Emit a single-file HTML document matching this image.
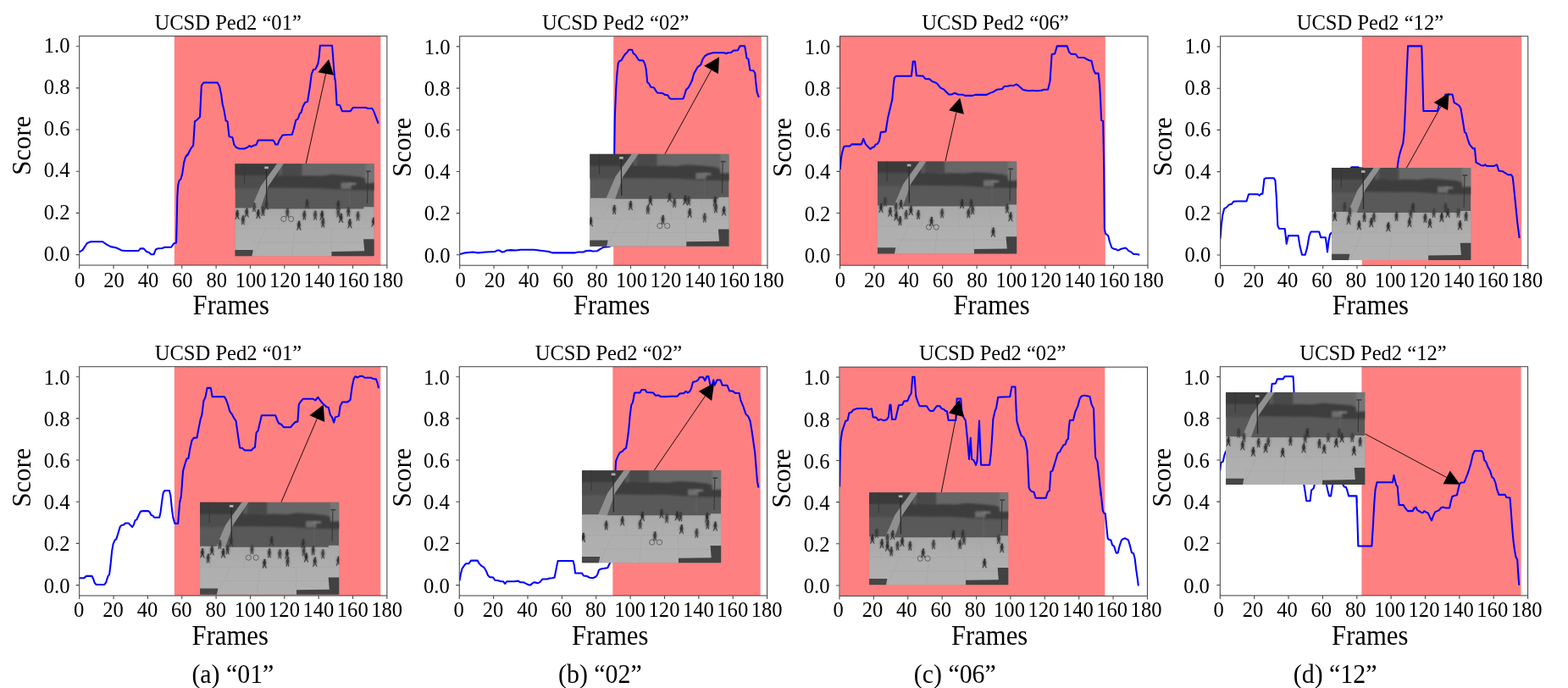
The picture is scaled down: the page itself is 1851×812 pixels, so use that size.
<!DOCTYPE html>
<html lang="en"><head><meta charset="utf-8"><title>UCSD Ped2 anomaly scores</title>
<style>html,body{margin:0;padding:0;background:#fff;}svg{display:block;}text{font-family:'Liberation Serif', serif;fill:#000;}.tk{font-size:24px;}.lb{font-size:30px;}.tt{font-size:24px;}.cp{font-size:30px;}</style>
</head><body>
<svg width="1851" height="812" viewBox="0 0 1851 812">
<defs>
<filter id="soft" x="-5%" y="-5%" width="110%" height="110%"><feGaussianBlur stdDeviation="0.9"/></filter>
<linearGradient id="pav" x1="0" y1="0" x2="0" y2="1"><stop offset="0" stop-color="#a8a8a8"/><stop offset="0.45" stop-color="#afafaf"/><stop offset="1" stop-color="#b1b1b1"/></linearGradient>
<clipPath id="ac0"><rect x="93.7" y="42.6" width="363.15" height="270.4"/></clipPath>
<clipPath id="ic0"><rect x="277.45" y="193.25" width="164.25" height="109.1"/></clipPath>
<clipPath id="ac1"><rect x="542.7" y="42.8" width="363.25" height="270.4"/></clipPath>
<clipPath id="ic1"><rect x="696.3" y="181.7" width="164.25" height="109.1"/></clipPath>
<clipPath id="ac2"><rect x="991.55" y="42.8" width="363.45" height="270.35"/></clipPath>
<clipPath id="ic2"><rect x="1036" y="190.4" width="164.25" height="109.1"/></clipPath>
<clipPath id="ac3"><rect x="1440.6" y="42.8" width="363.2" height="270.55"/></clipPath>
<clipPath id="ic3"><rect x="1572.1" y="197.9" width="164.25" height="109.1"/></clipPath>
<clipPath id="ac4"><rect x="93.7" y="432.75" width="363.15" height="270.25"/></clipPath>
<clipPath id="ic4"><rect x="236.05" y="592.7" width="164.25" height="109.1"/></clipPath>
<clipPath id="ac5"><rect x="542.25" y="432.75" width="363.35" height="270.25"/></clipPath>
<clipPath id="ic5"><rect x="686.95" y="555.2" width="164.25" height="109.1"/></clipPath>
<clipPath id="ac6"><rect x="991" y="433.2" width="363.45" height="270.2"/></clipPath>
<clipPath id="ic6"><rect x="1026.05" y="581.15" width="164.25" height="109.1"/></clipPath>
<clipPath id="ac7"><rect x="1440.3" y="432.75" width="363.3" height="270.15"/></clipPath>
<clipPath id="ic7"><rect x="1447.1" y="463" width="164.25" height="109.1"/></clipPath>
</defs>
<rect x="0" y="0" width="1851" height="812" fill="#fff"/>
<g>
<rect x="205.9" y="42.6" width="243.5" height="270.4" fill="#ff8080"/>
<polyline clip-path="url(#ac0)" points="93.69,297.34 97.54,295.12 102.71,287 107.14,285.22 121.18,285.22 126.35,288.92 130.79,291.13 137.44,292.46 143.35,295.42 147.78,296.01 163.3,296.01 165.81,293.35 169.66,293.35 172.91,297.04 175.86,298.08 178.52,300.3 181.48,300.3 183.99,294.38 186.5,293.2 191.38,292.91 194.78,291.72 202.17,291.72 205.12,287.44 208.08,286.26 208.1,286.55 208.62,266.21 209.31,231.72 210.17,218.79 211.55,213.1 213.62,211.03 215.34,204.14 217.07,192.07 218.79,186.03 220.52,183.1 222.24,182.07 219.7,184.77 221.67,182.21 225.02,175.91 228.17,171.58 229.94,143.41 232.5,141.44 236.05,138.09 237.82,101.06 240.38,97.52 256.73,97.52 259.09,102.05 261.06,110.91 262.64,122.73 264.61,130.61 266.58,142.42 268.55,143.41 270.52,161.14 274.45,162.12 276.42,170.98 278.79,173.94 282.73,175.52 288.64,175.52 292.58,173.55 294.55,171.97 296.52,173.55 298.48,171.97 302.42,170.98 304.79,165.47 322.12,165.47 323.7,167.05 325.27,170.59 327.64,170.59 330,165.08 333.55,159.56 344.77,158.77 346.74,152.27 349.3,141.83 351.67,140.45 353.64,134.55 355.61,132.58 357.58,125.68 359.94,121.15 363.09,119.77 365.45,105 367.82,87.27 369.79,82.35 372.35,81.76 375.3,75.45 376.68,67.58 377.86,53.79 392.05,53.79 393.03,65.61 394.02,79.39 395,91.21 395.98,96.14 397.56,123.71 401.3,124.3 403.86,131.2 413.71,131.2 416.67,127.06 432.42,127.06 434,128.05 439.32,128.05 441.29,131.59 444.24,139.47 446.61,145.77" fill="none" stroke="#0000ff" stroke-width="2.05" stroke-linejoin="round" stroke-linecap="butt"/>
<line x1="361.12" y1="193.24" x2="384.66" y2="87.08" stroke="#000" stroke-width="0.9"/>
<polygon points="388.11,69.94 375.3,85.3 394.02,88.85" fill="#000"/>
<g clip-path="url(#ic0)">
<rect x="277.45" y="193.25" width="164.25" height="109.1" fill="#595959"/>
<g filter="url(#soft)">
<rect x="269.24" y="187.79" width="59.13" height="19.64" fill="#3a3a3a"/>
<rect x="269.24" y="207.43" width="49.27" height="15.27" fill="#4e4e4e"/>
<rect x="333.3" y="187.79" width="24.64" height="20.73" fill="#484848"/>
<rect x="356.62" y="187.79" width="75.23" height="21.82" fill="#666666"/>
<rect x="431.35" y="187.79" width="18.56" height="28.37" fill="#747474"/>
<polygon points="316.05,221.62 316.05,211.8 321.8,207.98 336.58,206.89 351.36,207.98 362.86,206.89 379.28,207.43 392.42,205.8 408.85,206.89 425.27,208.52 431.02,210.71 431.84,216.16 449.91,215.07 449.91,224.89 408.85,224.34 379.28,222.16 343.15,221.83" fill="#3e3e3e"/>
<rect x="402.61" y="215.62" width="11.99" height="7.09" fill="#6e6e6e"/>
<rect x="411.31" y="216.16" width="9.03" height="1.64" fill="#8a8a8a"/>
</g>
<polygon points="327.71,192.16 335.59,192.16 316.54,219.98 307.18,246.71 296.17,246.71 307.67,219.98" fill="#909090"/>
<polygon points="269.24,245.4 296.34,245.4 307.01,246.38 429.38,246.38 429.38,244.31 449.91,244.31 449.91,307.81 269.24,307.81" fill="url(#pav)"/>
<line x1="307.01" y1="246.38" x2="288.95" y2="269.62" stroke="#a2a2a2" stroke-width="0.5"/>
<line x1="332.47" y1="246.38" x2="329.19" y2="271.8" stroke="#a2a2a2" stroke-width="0.5"/>
<line x1="372.71" y1="246.38" x2="373.54" y2="271.8" stroke="#a2a2a2" stroke-width="0.5"/>
<line x1="408.85" y1="246.38" x2="412.13" y2="271.8" stroke="#a2a2a2" stroke-width="0.5"/>
<line x1="277.45" y1="269.62" x2="441.7" y2="269.62" stroke="#a2a2a2" stroke-width="0.5"/>
<line x1="313.58" y1="269.62" x2="298.8" y2="302.35" stroke="#a2a2a2" stroke-width="0.5"/>
<line x1="348.08" y1="271.8" x2="344.79" y2="302.35" stroke="#a2a2a2" stroke-width="0.5"/>
<line x1="390.78" y1="269.62" x2="391.6" y2="302.35" stroke="#a2a2a2" stroke-width="0.5"/>
<line x1="298.8" y1="285.99" x2="430.2" y2="285.99" stroke="#a2a2a2" stroke-width="0.5"/>
<polygon points="269.24,295.04 298.8,295.04 296.34,307.81 269.24,307.81" fill="#464646"/>
<polygon points="391.44,296.89 430.2,296.35 429.05,282.17 449.91,282.17 449.91,307.81 391.44,307.81" fill="#424242"/>
<line x1="314.41" y1="198.71" x2="314.9" y2="242.34" stroke="#2a2a2a" stroke-width="1.3"/>
<rect x="312.27" y="196.52" width="4.6" height="2.73" fill="#b0b0b0"/>
<line x1="434.31" y1="203.07" x2="433.49" y2="240.16" stroke="#363636" stroke-width="1.1"/>
<rect x="431.84" y="201.43" width="5.75" height="1.64" fill="#3c3c3c"/>
<line x1="412.46" y1="216.16" x2="412.46" y2="244.53" stroke="#686868" stroke-width="0.6"/>
<line x1="288.62" y1="193.25" x2="288.62" y2="217.25" stroke="#363636" stroke-width="1"/>
<circle cx="334.86" cy="258.46" r="3.1" fill="none" stroke="#505050" stroke-width="0.8"/>
<circle cx="343.66" cy="258.46" r="3.1" fill="none" stroke="#505050" stroke-width="0.8"/>
<g filter="url(#soft)">
<ellipse cx="280.02" cy="253.06" rx="2" ry="4.6" fill="#3a3a3a" fill-opacity="0.75"/>
<ellipse cx="286.9" cy="259.46" rx="2" ry="4.6" fill="#3a3a3a" fill-opacity="0.75"/>
<ellipse cx="291.22" cy="250.66" rx="2" ry="4.6" fill="#3a3a3a" fill-opacity="0.75"/>
<ellipse cx="300.03" cy="244.25" rx="2" ry="4.6" fill="#3a3a3a" fill-opacity="0.75"/>
<ellipse cx="304.84" cy="252.26" rx="2" ry="4.6" fill="#3a3a3a" fill-opacity="0.75"/>
<ellipse cx="310.44" cy="249.06" rx="2" ry="4.6" fill="#3a3a3a" fill-opacity="0.75"/>
<ellipse cx="314.44" cy="241.85" rx="2" ry="4.6" fill="#3a3a3a" fill-opacity="0.75"/>
<ellipse cx="339.26" cy="250.66" rx="2" ry="4.6" fill="#3a3a3a" fill-opacity="0.75"/>
<ellipse cx="352.87" cy="265.87" rx="2" ry="4.6" fill="#3a3a3a" fill-opacity="0.75"/>
<ellipse cx="359.28" cy="253.86" rx="2" ry="4.6" fill="#3a3a3a" fill-opacity="0.75"/>
<ellipse cx="362.48" cy="240.25" rx="2" ry="4.6" fill="#3a3a3a" fill-opacity="0.75"/>
<ellipse cx="372.09" cy="253.86" rx="2" ry="4.6" fill="#3a3a3a" fill-opacity="0.75"/>
<ellipse cx="380.1" cy="253.86" rx="2" ry="4.6" fill="#3a3a3a" fill-opacity="0.75"/>
<ellipse cx="381.22" cy="262.67" rx="2" ry="4.6" fill="#3a3a3a" fill-opacity="0.75"/>
<ellipse cx="399.31" cy="241.85" rx="2" ry="4.6" fill="#3a3a3a" fill-opacity="0.75"/>
<ellipse cx="399.31" cy="250.66" rx="2" ry="4.6" fill="#3a3a3a" fill-opacity="0.75"/>
<ellipse cx="402.51" cy="257.06" rx="2" ry="4.6" fill="#3a3a3a" fill-opacity="0.75"/>
<ellipse cx="411.32" cy="249.86" rx="2" ry="4.6" fill="#3a3a3a" fill-opacity="0.75"/>
<ellipse cx="412.92" cy="263.47" rx="2" ry="4.6" fill="#3a3a3a" fill-opacity="0.75"/>
<ellipse cx="422.53" cy="254.66" rx="2" ry="4.6" fill="#3a3a3a" fill-opacity="0.75"/>
<ellipse cx="440.94" cy="261.87" rx="2" ry="4.6" fill="#3a3a3a" fill-opacity="0.75"/>
</g>
<ellipse cx="280.02" cy="252.46" rx="1.7" ry="2.8" fill="#303030"/>
<circle cx="280.32" cy="248.96" r="1.15" fill="#303030"/>
<path d="M279.72 254.66 L277.72 258.96 M280.32 254.66 L282.32 258.96" stroke="#303030" stroke-width="1" fill="none"/>
<ellipse cx="286.9" cy="258.86" rx="1.7" ry="2.8" fill="#3c3c3c"/>
<circle cx="287.2" cy="255.36" r="1.15" fill="#3c3c3c"/>
<path d="M286.6 261.06 L285.4 265.36 M287.2 261.06 L288.4 265.36" stroke="#3c3c3c" stroke-width="1" fill="none"/>
<ellipse cx="291.22" cy="250.06" rx="1.7" ry="2.8" fill="#353535"/>
<circle cx="291.52" cy="246.56" r="1.15" fill="#353535"/>
<path d="M290.92 252.26 L288.92 256.56 M291.52 252.26 L293.52 256.56" stroke="#353535" stroke-width="1" fill="none"/>
<ellipse cx="300.03" cy="243.65" rx="1.7" ry="2.8" fill="#444"/>
<circle cx="300.33" cy="240.15" r="1.15" fill="#444"/>
<path d="M299.73 245.85 L298.53 250.15 M300.33 245.85 L301.53 250.15" stroke="#444" stroke-width="1" fill="none"/>
<ellipse cx="304.84" cy="251.66" rx="1.7" ry="2.8" fill="#303030"/>
<circle cx="305.14" cy="248.16" r="1.15" fill="#303030"/>
<path d="M304.54 253.86 L302.54 258.16 M305.14 253.86 L307.14 258.16" stroke="#303030" stroke-width="1" fill="none"/>
<ellipse cx="310.44" cy="248.46" rx="1.7" ry="2.8" fill="#3c3c3c"/>
<circle cx="310.74" cy="244.96" r="1.15" fill="#3c3c3c"/>
<path d="M310.14 250.66 L308.94 254.96 M310.74 250.66 L311.94 254.96" stroke="#3c3c3c" stroke-width="1" fill="none"/>
<ellipse cx="314.44" cy="241.25" rx="1.7" ry="2.8" fill="#353535"/>
<circle cx="314.74" cy="237.75" r="1.15" fill="#353535"/>
<path d="M314.14 243.45 L312.14 247.75 M314.74 243.45 L316.74 247.75" stroke="#353535" stroke-width="1" fill="none"/>
<ellipse cx="339.26" cy="250.06" rx="1.7" ry="2.8" fill="#444"/>
<circle cx="339.56" cy="246.56" r="1.15" fill="#444"/>
<path d="M338.96 252.26 L337.76 256.56 M339.56 252.26 L340.76 256.56" stroke="#444" stroke-width="1" fill="none"/>
<ellipse cx="352.87" cy="265.27" rx="1.7" ry="2.8" fill="#303030"/>
<circle cx="353.17" cy="261.77" r="1.15" fill="#303030"/>
<path d="M352.57 267.47 L350.57 271.77 M353.17 267.47 L355.17 271.77" stroke="#303030" stroke-width="1" fill="none"/>
<ellipse cx="359.28" cy="253.26" rx="1.7" ry="2.8" fill="#3c3c3c"/>
<circle cx="359.58" cy="249.76" r="1.15" fill="#3c3c3c"/>
<path d="M358.98 255.46 L357.78 259.76 M359.58 255.46 L360.78 259.76" stroke="#3c3c3c" stroke-width="1" fill="none"/>
<ellipse cx="362.48" cy="239.65" rx="1.7" ry="2.8" fill="#353535"/>
<circle cx="362.78" cy="236.15" r="1.15" fill="#353535"/>
<path d="M362.18 241.85 L360.18 246.15 M362.78 241.85 L364.78 246.15" stroke="#353535" stroke-width="1" fill="none"/>
<ellipse cx="372.09" cy="253.26" rx="1.7" ry="2.8" fill="#444"/>
<circle cx="372.39" cy="249.76" r="1.15" fill="#444"/>
<path d="M371.79 255.46 L370.59 259.76 M372.39 255.46 L373.59 259.76" stroke="#444" stroke-width="1" fill="none"/>
<ellipse cx="380.1" cy="253.26" rx="1.7" ry="2.8" fill="#303030"/>
<circle cx="380.4" cy="249.76" r="1.15" fill="#303030"/>
<path d="M379.8 255.46 L377.8 259.76 M380.4 255.46 L382.4 259.76" stroke="#303030" stroke-width="1" fill="none"/>
<ellipse cx="381.22" cy="262.07" rx="1.7" ry="2.8" fill="#3c3c3c"/>
<circle cx="381.52" cy="258.57" r="1.15" fill="#3c3c3c"/>
<path d="M380.92 264.27 L379.72 268.57 M381.52 264.27 L382.72 268.57" stroke="#3c3c3c" stroke-width="1" fill="none"/>
<ellipse cx="399.31" cy="241.25" rx="1.7" ry="2.8" fill="#353535"/>
<circle cx="399.61" cy="237.75" r="1.15" fill="#353535"/>
<path d="M399.01 243.45 L397.01 247.75 M399.61 243.45 L401.61 247.75" stroke="#353535" stroke-width="1" fill="none"/>
<ellipse cx="399.31" cy="250.06" rx="1.7" ry="2.8" fill="#444"/>
<circle cx="399.61" cy="246.56" r="1.15" fill="#444"/>
<path d="M399.01 252.26 L397.81 256.56 M399.61 252.26 L400.81 256.56" stroke="#444" stroke-width="1" fill="none"/>
<ellipse cx="402.51" cy="256.46" rx="1.7" ry="2.8" fill="#303030"/>
<circle cx="402.81" cy="252.96" r="1.15" fill="#303030"/>
<path d="M402.21 258.66 L400.21 262.96 M402.81 258.66 L404.81 262.96" stroke="#303030" stroke-width="1" fill="none"/>
<ellipse cx="411.32" cy="249.26" rx="1.7" ry="2.8" fill="#3c3c3c"/>
<circle cx="411.62" cy="245.76" r="1.15" fill="#3c3c3c"/>
<path d="M411.02 251.46 L409.82 255.76 M411.62 251.46 L412.82 255.76" stroke="#3c3c3c" stroke-width="1" fill="none"/>
<ellipse cx="412.92" cy="262.87" rx="1.7" ry="2.8" fill="#353535"/>
<circle cx="413.22" cy="259.37" r="1.15" fill="#353535"/>
<path d="M412.62 265.07 L410.62 269.37 M413.22 265.07 L415.22 269.37" stroke="#353535" stroke-width="1" fill="none"/>
<ellipse cx="422.53" cy="254.06" rx="1.7" ry="2.8" fill="#444"/>
<circle cx="422.83" cy="250.56" r="1.15" fill="#444"/>
<path d="M422.23 256.26 L421.03 260.56 M422.83 256.26 L424.03 260.56" stroke="#444" stroke-width="1" fill="none"/>
<ellipse cx="440.94" cy="261.27" rx="1.7" ry="2.8" fill="#303030"/>
<circle cx="441.24" cy="257.77" r="1.15" fill="#303030"/>
<path d="M440.64 263.47 L438.64 267.77 M441.24 263.47 L443.24 267.77" stroke="#303030" stroke-width="1" fill="none"/>
</g>
<rect x="93.7" y="42.6" width="363.15" height="270.4" fill="none" stroke="#3c3c3c" stroke-width="1"/>
<path d="M93.7 313v4M134.05 313v4M174.4 313v4M214.75 313v4M255.1 313v4M295.45 313v4M335.8 313v4M376.15 313v4M416.5 313v4M456.85 313v4M93.7 300.6h-4M93.7 251.42h-4M93.7 202.24h-4M93.7 153.06h-4M93.7 103.88h-4M93.7 54.7h-4" stroke="#4a4a4a" stroke-width="1.1" fill="none"/>
<text class="tk" transform="translate(94.2 338.6) scale(1.025 1.09)" text-anchor="middle">0</text>
<text class="tk" transform="translate(134.58 338.6) scale(1.025 1.09)" text-anchor="middle">20</text>
<text class="tk" transform="translate(174.97 338.6) scale(1.025 1.09)" text-anchor="middle">40</text>
<text class="tk" transform="translate(215.35 338.6) scale(1.025 1.09)" text-anchor="middle">60</text>
<text class="tk" transform="translate(255.73 338.6) scale(1.025 1.09)" text-anchor="middle">80</text>
<text class="tk" transform="translate(296.12 338.6) scale(1.025 1.09)" text-anchor="middle">100</text>
<text class="tk" transform="translate(336.5 338.6) scale(1.025 1.09)" text-anchor="middle">120</text>
<text class="tk" transform="translate(376.88 338.6) scale(1.025 1.09)" text-anchor="middle">140</text>
<text class="tk" transform="translate(417.27 338.6) scale(1.025 1.09)" text-anchor="middle">160</text>
<text class="tk" transform="translate(457.65 338.6) scale(1.025 1.09)" text-anchor="middle">180</text>
<text class="tk" transform="translate(82.5 307.7) scale(1.025 1.09)" text-anchor="end">0.0</text>
<text class="tk" transform="translate(82.5 258.52) scale(1.025 1.09)" text-anchor="end">0.2</text>
<text class="tk" transform="translate(82.5 209.34) scale(1.025 1.09)" text-anchor="end">0.4</text>
<text class="tk" transform="translate(82.5 160.16) scale(1.025 1.09)" text-anchor="end">0.6</text>
<text class="tk" transform="translate(82.5 110.98) scale(1.025 1.09)" text-anchor="end">0.8</text>
<text class="tk" transform="translate(82.5 61.8) scale(1.025 1.09)" text-anchor="end">1.0</text>
<text class="lb" transform="translate(272.7 370.8) scale(1.022 1.09)" text-anchor="middle">Frames</text>
<text class="lb" transform="translate(36.3 171.9) rotate(-90) scale(1.022 1.04)" text-anchor="middle">Score</text>
<text class="tt" transform="translate(269.15 34.8) scale(1.025 1.09)" text-anchor="middle">UCSD Ped2 “01”</text>
</g>
<g>
<rect x="724.2" y="42.8" width="174.6" height="270.4" fill="#ff8080"/>
<polyline clip-path="url(#ac1)" points="542.97,299.98 549.45,298.36 558.09,297.6 564.58,298.36 573.22,297.6 584.02,297.06 587.27,295.44 589.43,295.44 592.67,297.6 594.83,297.28 598.07,295.44 603.47,295.12 608.88,295.44 614.28,294.79 630.49,294.79 638.05,295.66 646.69,296.74 648.85,297.28 652.1,298.36 679.11,298.36 682.35,297.49 688.83,297.49 692.07,295.98 696.4,295.66 699.64,296.52 705.04,296.2 708.28,294.04 712.6,291.66 718.55,291.33 723.41,289.17 724.6,275 724.85,195.61 725.24,181.42 725.83,138.48 727.21,105 728.39,87.27 729.77,74.47 731.35,71.91 733.71,71.12 736.08,66.59 738.24,63.64 740.21,62.06 742.18,58.71 746.12,58.71 747.5,62.65 750.45,65.21 752.42,68.56 754.39,71.12 759.32,71.52 761.29,75.45 762.67,81.36 764.24,97.12 766.21,98.7 768.18,102.64 772.12,103.42 774.09,106.97 776.06,109.53 781.97,109.92 784.92,111.89 788.27,112.29 790.24,115.83 792.21,116.82 806.59,116.42 808.17,111.89 809.94,105.98 812.5,103.42 814.47,100.08 817.03,94.76 819,87.27 821.36,82.94 823.33,79.39 825.3,77.82 827.27,76.44 829.64,69.55 832.2,66 836.14,63.64 842.05,62.26 854.85,62.26 857.21,63.24 859.18,62.26 863.12,62.06 865.68,59.7 871,59.3 873.56,54.18 879.08,54.18 880.45,61.67 881.44,68.56 883.41,69.55 885.38,82.94 889.32,83.33 891.29,86.29 892.27,97.12 893.65,108.94 895.82,114.85" fill="none" stroke="#0000ff" stroke-width="2.05" stroke-linejoin="round" stroke-linecap="butt"/>
<line x1="784.92" y1="181.82" x2="839.58" y2="82.55" stroke="#000" stroke-width="0.9"/>
<polygon points="848.94,67.18 831.21,77.82 847.95,87.27" fill="#000"/>
<g clip-path="url(#ic1)">
<rect x="696.3" y="181.7" width="164.25" height="109.1" fill="#595959"/>
<g filter="url(#soft)">
<rect x="688.09" y="176.24" width="59.13" height="19.64" fill="#3a3a3a"/>
<rect x="688.09" y="195.88" width="49.27" height="15.27" fill="#4e4e4e"/>
<rect x="752.14" y="176.24" width="24.64" height="20.73" fill="#484848"/>
<rect x="775.47" y="176.24" width="75.23" height="21.82" fill="#666666"/>
<rect x="850.2" y="176.24" width="18.56" height="28.37" fill="#747474"/>
<polygon points="734.9,210.07 734.9,200.25 740.65,196.43 755.43,195.34 770.21,196.43 781.71,195.34 798.13,195.88 811.27,194.25 827.7,195.34 844.12,196.97 849.87,199.16 850.69,204.61 868.76,203.52 868.76,213.34 827.7,212.79 798.13,210.61 762,210.28" fill="#3e3e3e"/>
<rect x="821.46" y="204.07" width="11.99" height="7.09" fill="#6e6e6e"/>
<rect x="830.16" y="204.61" width="9.03" height="1.64" fill="#8a8a8a"/>
</g>
<polygon points="746.56,180.61 754.44,180.61 735.39,208.43 726.03,235.16 715.02,235.16 726.52,208.43" fill="#909090"/>
<polygon points="688.09,233.85 715.19,233.85 725.87,234.83 848.23,234.83 848.23,232.76 868.76,232.76 868.76,296.25 688.09,296.25" fill="url(#pav)"/>
<line x1="725.87" y1="234.83" x2="707.8" y2="258.07" stroke="#a2a2a2" stroke-width="0.5"/>
<line x1="751.32" y1="234.83" x2="748.04" y2="260.25" stroke="#a2a2a2" stroke-width="0.5"/>
<line x1="791.56" y1="234.83" x2="792.39" y2="260.25" stroke="#a2a2a2" stroke-width="0.5"/>
<line x1="827.7" y1="234.83" x2="830.98" y2="260.25" stroke="#a2a2a2" stroke-width="0.5"/>
<line x1="696.3" y1="258.07" x2="860.55" y2="258.07" stroke="#a2a2a2" stroke-width="0.5"/>
<line x1="732.43" y1="258.07" x2="717.65" y2="290.8" stroke="#a2a2a2" stroke-width="0.5"/>
<line x1="766.93" y1="260.25" x2="763.64" y2="290.8" stroke="#a2a2a2" stroke-width="0.5"/>
<line x1="809.63" y1="258.07" x2="810.45" y2="290.8" stroke="#a2a2a2" stroke-width="0.5"/>
<line x1="717.65" y1="274.44" x2="849.05" y2="274.44" stroke="#a2a2a2" stroke-width="0.5"/>
<polygon points="688.09,283.49 717.65,283.49 715.19,296.25 688.09,296.25" fill="#464646"/>
<polygon points="810.29,285.34 849.05,284.8 847.9,270.62 868.76,270.62 868.76,296.25 810.29,296.25" fill="#424242"/>
<line x1="733.26" y1="187.16" x2="733.75" y2="230.79" stroke="#2a2a2a" stroke-width="1.3"/>
<rect x="731.12" y="184.97" width="4.6" height="2.73" fill="#b0b0b0"/>
<line x1="853.16" y1="191.52" x2="852.34" y2="228.61" stroke="#363636" stroke-width="1.1"/>
<rect x="850.69" y="189.88" width="5.75" height="1.64" fill="#3c3c3c"/>
<line x1="831.31" y1="204.61" x2="831.31" y2="232.98" stroke="#686868" stroke-width="0.6"/>
<line x1="707.47" y1="181.7" x2="707.47" y2="205.7" stroke="#363636" stroke-width="1"/>
<circle cx="778.88" cy="266.56" r="3.1" fill="none" stroke="#505050" stroke-width="0.8"/>
<circle cx="787.68" cy="266.56" r="3.1" fill="none" stroke="#505050" stroke-width="0.8"/>
<g filter="url(#soft)">
<ellipse cx="697.29" cy="261.47" rx="2" ry="4.6" fill="#3a3a3a" fill-opacity="0.75"/>
<ellipse cx="725.16" cy="247.06" rx="2" ry="4.6" fill="#3a3a3a" fill-opacity="0.75"/>
<ellipse cx="744.37" cy="242.26" rx="2" ry="4.6" fill="#3a3a3a" fill-opacity="0.75"/>
<ellipse cx="764.87" cy="247.06" rx="2" ry="4.6" fill="#3a3a3a" fill-opacity="0.75"/>
<ellipse cx="767.75" cy="236.65" rx="2" ry="4.6" fill="#3a3a3a" fill-opacity="0.75"/>
<ellipse cx="782.48" cy="259.07" rx="2" ry="4.6" fill="#3a3a3a" fill-opacity="0.75"/>
<ellipse cx="790.49" cy="232.65" rx="2" ry="4.6" fill="#3a3a3a" fill-opacity="0.75"/>
<ellipse cx="796.09" cy="239.06" rx="2" ry="4.6" fill="#3a3a3a" fill-opacity="0.75"/>
<ellipse cx="808.9" cy="235.85" rx="2" ry="4.6" fill="#3a3a3a" fill-opacity="0.75"/>
<ellipse cx="812.91" cy="236.65" rx="2" ry="4.6" fill="#3a3a3a" fill-opacity="0.75"/>
<ellipse cx="814.19" cy="251.06" rx="2" ry="4.6" fill="#3a3a3a" fill-opacity="0.75"/>
<ellipse cx="831.8" cy="256.67" rx="2" ry="4.6" fill="#3a3a3a" fill-opacity="0.75"/>
<ellipse cx="844.13" cy="237.45" rx="2" ry="4.6" fill="#3a3a3a" fill-opacity="0.75"/>
<ellipse cx="844.93" cy="245.46" rx="2" ry="4.6" fill="#3a3a3a" fill-opacity="0.75"/>
<ellipse cx="854.54" cy="248.66" rx="2" ry="4.6" fill="#3a3a3a" fill-opacity="0.75"/>
</g>
<ellipse cx="697.29" cy="260.87" rx="1.7" ry="2.8" fill="#303030"/>
<circle cx="697.59" cy="257.37" r="1.15" fill="#303030"/>
<path d="M696.99 263.07 L694.99 267.37 M697.59 263.07 L699.59 267.37" stroke="#303030" stroke-width="1" fill="none"/>
<ellipse cx="725.16" cy="246.46" rx="1.7" ry="2.8" fill="#3c3c3c"/>
<circle cx="725.46" cy="242.96" r="1.15" fill="#3c3c3c"/>
<path d="M724.86 248.66 L723.66 252.96 M725.46 248.66 L726.66 252.96" stroke="#3c3c3c" stroke-width="1" fill="none"/>
<ellipse cx="744.37" cy="241.66" rx="1.7" ry="2.8" fill="#353535"/>
<circle cx="744.67" cy="238.16" r="1.15" fill="#353535"/>
<path d="M744.07 243.86 L742.07 248.16 M744.67 243.86 L746.67 248.16" stroke="#353535" stroke-width="1" fill="none"/>
<ellipse cx="764.87" cy="246.46" rx="1.7" ry="2.8" fill="#444"/>
<circle cx="765.17" cy="242.96" r="1.15" fill="#444"/>
<path d="M764.57 248.66 L763.37 252.96 M765.17 248.66 L766.37 252.96" stroke="#444" stroke-width="1" fill="none"/>
<ellipse cx="767.75" cy="236.05" rx="1.7" ry="2.8" fill="#303030"/>
<circle cx="768.05" cy="232.55" r="1.15" fill="#303030"/>
<path d="M767.45 238.25 L765.45 242.55 M768.05 238.25 L770.05 242.55" stroke="#303030" stroke-width="1" fill="none"/>
<ellipse cx="782.48" cy="258.47" rx="1.7" ry="2.8" fill="#3c3c3c"/>
<circle cx="782.78" cy="254.97" r="1.15" fill="#3c3c3c"/>
<path d="M782.18 260.67 L780.98 264.97 M782.78 260.67 L783.98 264.97" stroke="#3c3c3c" stroke-width="1" fill="none"/>
<ellipse cx="790.49" cy="232.05" rx="1.7" ry="2.8" fill="#353535"/>
<circle cx="790.79" cy="228.55" r="1.15" fill="#353535"/>
<path d="M790.19 234.25 L788.19 238.55 M790.79 234.25 L792.79 238.55" stroke="#353535" stroke-width="1" fill="none"/>
<ellipse cx="796.09" cy="238.46" rx="1.7" ry="2.8" fill="#444"/>
<circle cx="796.39" cy="234.96" r="1.15" fill="#444"/>
<path d="M795.79 240.66 L794.59 244.96 M796.39 240.66 L797.59 244.96" stroke="#444" stroke-width="1" fill="none"/>
<ellipse cx="808.9" cy="235.25" rx="1.7" ry="2.8" fill="#303030"/>
<circle cx="809.2" cy="231.75" r="1.15" fill="#303030"/>
<path d="M808.6 237.45 L806.6 241.75 M809.2 237.45 L811.2 241.75" stroke="#303030" stroke-width="1" fill="none"/>
<ellipse cx="812.91" cy="236.05" rx="1.7" ry="2.8" fill="#3c3c3c"/>
<circle cx="813.21" cy="232.55" r="1.15" fill="#3c3c3c"/>
<path d="M812.61 238.25 L811.41 242.55 M813.21 238.25 L814.41 242.55" stroke="#3c3c3c" stroke-width="1" fill="none"/>
<ellipse cx="814.19" cy="250.46" rx="1.7" ry="2.8" fill="#353535"/>
<circle cx="814.49" cy="246.96" r="1.15" fill="#353535"/>
<path d="M813.89 252.66 L811.89 256.96 M814.49 252.66 L816.49 256.96" stroke="#353535" stroke-width="1" fill="none"/>
<ellipse cx="831.8" cy="256.07" rx="1.7" ry="2.8" fill="#444"/>
<circle cx="832.1" cy="252.57" r="1.15" fill="#444"/>
<path d="M831.5 258.27 L830.3 262.57 M832.1 258.27 L833.3 262.57" stroke="#444" stroke-width="1" fill="none"/>
<ellipse cx="844.13" cy="236.85" rx="1.7" ry="2.8" fill="#303030"/>
<circle cx="844.43" cy="233.35" r="1.15" fill="#303030"/>
<path d="M843.83 239.05 L841.83 243.35 M844.43 239.05 L846.43 243.35" stroke="#303030" stroke-width="1" fill="none"/>
<ellipse cx="844.93" cy="244.86" rx="1.7" ry="2.8" fill="#3c3c3c"/>
<circle cx="845.23" cy="241.36" r="1.15" fill="#3c3c3c"/>
<path d="M844.63 247.06 L843.43 251.36 M845.23 247.06 L846.43 251.36" stroke="#3c3c3c" stroke-width="1" fill="none"/>
<ellipse cx="854.54" cy="248.06" rx="1.7" ry="2.8" fill="#353535"/>
<circle cx="854.84" cy="244.56" r="1.15" fill="#353535"/>
<path d="M854.24 250.26 L852.24 254.56 M854.84 250.26 L856.84 254.56" stroke="#353535" stroke-width="1" fill="none"/>
</g>
<rect x="542.7" y="42.8" width="363.25" height="270.4" fill="none" stroke="#3c3c3c" stroke-width="1"/>
<path d="M542.7 313.2v4M583.06 313.2v4M623.42 313.2v4M663.78 313.2v4M704.14 313.2v4M744.51 313.2v4M784.87 313.2v4M825.23 313.2v4M865.59 313.2v4M905.95 313.2v4M542.7 300.8h-4M542.7 251.62h-4M542.7 202.44h-4M542.7 153.26h-4M542.7 104.08h-4M542.7 54.9h-4" stroke="#4a4a4a" stroke-width="1.1" fill="none"/>
<text class="tk" transform="translate(543.6 338.6) scale(1.025 1.09)" text-anchor="middle">0</text>
<text class="tk" transform="translate(583.98 338.6) scale(1.025 1.09)" text-anchor="middle">20</text>
<text class="tk" transform="translate(624.37 338.6) scale(1.025 1.09)" text-anchor="middle">40</text>
<text class="tk" transform="translate(664.75 338.6) scale(1.025 1.09)" text-anchor="middle">60</text>
<text class="tk" transform="translate(705.13 338.6) scale(1.025 1.09)" text-anchor="middle">80</text>
<text class="tk" transform="translate(745.52 338.6) scale(1.025 1.09)" text-anchor="middle">100</text>
<text class="tk" transform="translate(785.9 338.6) scale(1.025 1.09)" text-anchor="middle">120</text>
<text class="tk" transform="translate(826.28 338.6) scale(1.025 1.09)" text-anchor="middle">140</text>
<text class="tk" transform="translate(866.67 338.6) scale(1.025 1.09)" text-anchor="middle">160</text>
<text class="tk" transform="translate(907.05 338.6) scale(1.025 1.09)" text-anchor="middle">180</text>
<text class="tk" transform="translate(531.5 309.6) scale(1.025 1.09)" text-anchor="end">0.0</text>
<text class="tk" transform="translate(531.5 260.42) scale(1.025 1.09)" text-anchor="end">0.2</text>
<text class="tk" transform="translate(531.5 211.24) scale(1.025 1.09)" text-anchor="end">0.4</text>
<text class="tk" transform="translate(531.5 162.06) scale(1.025 1.09)" text-anchor="end">0.6</text>
<text class="tk" transform="translate(531.5 112.88) scale(1.025 1.09)" text-anchor="end">0.8</text>
<text class="tk" transform="translate(531.5 63.7) scale(1.025 1.09)" text-anchor="end">1.0</text>
<text class="lb" transform="translate(722.1 370.8) scale(1.022 1.09)" text-anchor="middle">Frames</text>
<text class="lb" transform="translate(485.3 173.8) rotate(-90) scale(1.022 1.04)" text-anchor="middle">Score</text>
<text class="tt" transform="translate(726.75 34.8) scale(1.025 1.09)" text-anchor="middle">UCSD Ped2 “02”</text>
</g>
<g>
<rect x="991.6" y="42.8" width="313.2" height="270.35" fill="#ff8080"/>
<polyline clip-path="url(#ac2)" points="991.77,199.92 992.8,187.81 994.24,179.6 996.29,173.03 998.34,172.41 1003.48,172.41 1005.12,170.36 1016.82,170.36 1019.28,163.79 1021.95,170.36 1025.03,173.44 1027.5,175.9 1030.16,173.85 1031.81,173.44 1033.86,170.36 1035.91,169.75 1037.97,166.26 1039.81,155.99 1045.56,155.38 1048.03,139.57 1050.69,128.28 1053.36,116.99 1054.8,99.54 1055.83,91.73 1057.88,89.68 1075.95,89.68 1077.79,72.44 1080.05,72.44 1081.9,89.27 1089.7,89.68 1092.16,92.97 1097.5,93.38 1100.38,96.05 1105.71,98.1 1110.23,103.64 1114.34,105.69 1120.08,111.44 1123.57,111.44 1127.06,109.8 1130.76,111.44 1136.92,111.85 1138.97,112.88 1148.21,112.88 1151.29,111.85 1164.63,111.85 1169.76,109.39 1172.84,108.36 1176.95,105.69 1183.11,105.08 1185.16,102 1190.29,101.59 1193.37,100.77 1196.45,101.18 1199.53,99.54 1201.59,100.56 1207.74,106.1 1214.93,107.34 1219.04,106.72 1223.14,107.34 1229.3,106.72 1232.38,105.69 1237.1,105.69 1239.57,95.43 1241.62,64.22 1245.31,63.2 1247.78,54.37 1259.68,54.37 1262.15,61.56 1264.2,63.61 1269.95,64.02 1272.41,67.71 1279.6,67.92 1282.68,69.77 1285.76,71.2 1288.43,71.82 1290.89,82.09 1292.94,86.6 1296.64,86.6 1298.07,99.54 1299.1,118.01 1300.13,142.03 1302.18,142.65 1303.21,199.92 1303.84,270 1305.02,275.62 1308.28,278.57 1310.2,286.26 1312.41,292.46 1314.63,293.65 1316.85,293.94 1319.8,295.57 1322.76,294.09 1325.71,293.35 1328.37,292.46 1330.44,293.94 1332.36,296.16 1334.58,297.04 1338.28,300 1341.97,300 1345.22,300.74" fill="none" stroke="#0000ff" stroke-width="2.05" stroke-linejoin="round" stroke-linecap="butt"/>
<line x1="1115.98" y1="190.28" x2="1129.01" y2="132.59" stroke="#000" stroke-width="0.9"/>
<polygon points="1133.22,115.55 1120.08,130.33 1137.94,134.85" fill="#000"/>
<g clip-path="url(#ic2)">
<rect x="1036" y="190.4" width="164.25" height="109.1" fill="#595959"/>
<g filter="url(#soft)">
<rect x="1027.79" y="184.94" width="59.13" height="19.64" fill="#3a3a3a"/>
<rect x="1027.79" y="204.58" width="49.27" height="15.27" fill="#4e4e4e"/>
<rect x="1091.85" y="184.94" width="24.64" height="20.73" fill="#484848"/>
<rect x="1115.17" y="184.94" width="75.23" height="21.82" fill="#666666"/>
<rect x="1189.9" y="184.94" width="18.56" height="28.37" fill="#747474"/>
<polygon points="1074.6,218.77 1074.6,208.95 1080.35,205.13 1095.13,204.04 1109.91,205.13 1121.41,204.04 1137.84,204.58 1150.97,202.95 1167.4,204.04 1183.83,205.67 1189.57,207.86 1190.39,213.31 1208.46,212.22 1208.46,222.04 1167.4,221.49 1137.84,219.31 1101.7,218.98" fill="#3e3e3e"/>
<rect x="1161.16" y="212.77" width="11.99" height="7.09" fill="#6e6e6e"/>
<rect x="1169.86" y="213.31" width="9.03" height="1.64" fill="#8a8a8a"/>
</g>
<polygon points="1086.26,189.31 1094.14,189.31 1075.09,217.13 1065.73,243.86 1054.72,243.86 1066.22,217.13" fill="#909090"/>
<polygon points="1027.79,242.55 1054.89,242.55 1065.57,243.53 1187.93,243.53 1187.93,241.46 1208.46,241.46 1208.46,304.95 1027.79,304.95" fill="url(#pav)"/>
<line x1="1065.57" y1="243.53" x2="1047.5" y2="266.77" stroke="#a2a2a2" stroke-width="0.5"/>
<line x1="1091.02" y1="243.53" x2="1087.74" y2="268.95" stroke="#a2a2a2" stroke-width="0.5"/>
<line x1="1131.26" y1="243.53" x2="1132.09" y2="268.95" stroke="#a2a2a2" stroke-width="0.5"/>
<line x1="1167.4" y1="243.53" x2="1170.68" y2="268.95" stroke="#a2a2a2" stroke-width="0.5"/>
<line x1="1036" y1="266.77" x2="1200.25" y2="266.77" stroke="#a2a2a2" stroke-width="0.5"/>
<line x1="1072.13" y1="266.77" x2="1057.35" y2="299.5" stroke="#a2a2a2" stroke-width="0.5"/>
<line x1="1106.63" y1="268.95" x2="1103.34" y2="299.5" stroke="#a2a2a2" stroke-width="0.5"/>
<line x1="1149.33" y1="266.77" x2="1150.15" y2="299.5" stroke="#a2a2a2" stroke-width="0.5"/>
<line x1="1057.35" y1="283.13" x2="1188.75" y2="283.13" stroke="#a2a2a2" stroke-width="0.5"/>
<polygon points="1027.79,292.19 1057.35,292.19 1054.89,304.95 1027.79,304.95" fill="#464646"/>
<polygon points="1149.99,294.05 1188.75,293.5 1187.6,279.32 1208.46,279.32 1208.46,304.95 1149.99,304.95" fill="#424242"/>
<line x1="1072.96" y1="195.86" x2="1073.45" y2="239.5" stroke="#2a2a2a" stroke-width="1.3"/>
<rect x="1070.82" y="193.67" width="4.6" height="2.73" fill="#b0b0b0"/>
<line x1="1192.86" y1="200.22" x2="1192.04" y2="237.31" stroke="#363636" stroke-width="1.1"/>
<rect x="1190.39" y="198.58" width="5.75" height="1.64" fill="#3c3c3c"/>
<line x1="1171.01" y1="213.31" x2="1171.01" y2="241.68" stroke="#686868" stroke-width="0.6"/>
<line x1="1047.17" y1="190.4" x2="1047.17" y2="214.4" stroke="#363636" stroke-width="1"/>
<circle cx="1096.46" cy="268.07" r="3.1" fill="none" stroke="#505050" stroke-width="0.8"/>
<circle cx="1105.26" cy="268.07" r="3.1" fill="none" stroke="#505050" stroke-width="0.8"/>
<g filter="url(#soft)">
<ellipse cx="1040.02" cy="245.05" rx="2" ry="4.6" fill="#3a3a3a" fill-opacity="0.75"/>
<ellipse cx="1044.82" cy="237.85" rx="2" ry="4.6" fill="#3a3a3a" fill-opacity="0.75"/>
<ellipse cx="1050.9" cy="249.86" rx="2" ry="4.6" fill="#3a3a3a" fill-opacity="0.75"/>
<ellipse cx="1057.63" cy="244.25" rx="2" ry="4.6" fill="#3a3a3a" fill-opacity="0.75"/>
<ellipse cx="1057.95" cy="254.66" rx="2" ry="4.6" fill="#3a3a3a" fill-opacity="0.75"/>
<ellipse cx="1062.43" cy="260.26" rx="2" ry="4.6" fill="#3a3a3a" fill-opacity="0.75"/>
<ellipse cx="1063.55" cy="241.05" rx="2" ry="4.6" fill="#3a3a3a" fill-opacity="0.75"/>
<ellipse cx="1069.64" cy="253.06" rx="2" ry="4.6" fill="#3a3a3a" fill-opacity="0.75"/>
<ellipse cx="1075.24" cy="248.25" rx="2" ry="4.6" fill="#3a3a3a" fill-opacity="0.75"/>
<ellipse cx="1084.05" cy="253.06" rx="2" ry="4.6" fill="#3a3a3a" fill-opacity="0.75"/>
<ellipse cx="1099.58" cy="261.06" rx="2" ry="4.6" fill="#3a3a3a" fill-opacity="0.75"/>
<ellipse cx="1112.07" cy="251.46" rx="2" ry="4.6" fill="#3a3a3a" fill-opacity="0.75"/>
<ellipse cx="1135.61" cy="240.25" rx="2" ry="4.6" fill="#3a3a3a" fill-opacity="0.75"/>
<ellipse cx="1143.3" cy="251.46" rx="2" ry="4.6" fill="#3a3a3a" fill-opacity="0.75"/>
<ellipse cx="1146.5" cy="240.25" rx="2" ry="4.6" fill="#3a3a3a" fill-opacity="0.75"/>
<ellipse cx="1148.1" cy="247.45" rx="2" ry="4.6" fill="#3a3a3a" fill-opacity="0.75"/>
<ellipse cx="1172.44" cy="273.87" rx="2" ry="4.6" fill="#3a3a3a" fill-opacity="0.75"/>
<ellipse cx="1188.94" cy="245.85" rx="2" ry="4.6" fill="#3a3a3a" fill-opacity="0.75"/>
<ellipse cx="1192.94" cy="255.46" rx="2" ry="4.6" fill="#3a3a3a" fill-opacity="0.75"/>
</g>
<ellipse cx="1040.02" cy="244.45" rx="1.7" ry="2.8" fill="#303030"/>
<circle cx="1040.32" cy="240.95" r="1.15" fill="#303030"/>
<path d="M1039.72 246.65 L1037.72 250.95 M1040.32 246.65 L1042.32 250.95" stroke="#303030" stroke-width="1" fill="none"/>
<ellipse cx="1044.82" cy="237.25" rx="1.7" ry="2.8" fill="#3c3c3c"/>
<circle cx="1045.12" cy="233.75" r="1.15" fill="#3c3c3c"/>
<path d="M1044.52 239.45 L1043.32 243.75 M1045.12 239.45 L1046.32 243.75" stroke="#3c3c3c" stroke-width="1" fill="none"/>
<ellipse cx="1050.9" cy="249.26" rx="1.7" ry="2.8" fill="#353535"/>
<circle cx="1051.2" cy="245.76" r="1.15" fill="#353535"/>
<path d="M1050.6 251.46 L1048.6 255.76 M1051.2 251.46 L1053.2 255.76" stroke="#353535" stroke-width="1" fill="none"/>
<ellipse cx="1057.63" cy="243.65" rx="1.7" ry="2.8" fill="#444"/>
<circle cx="1057.93" cy="240.15" r="1.15" fill="#444"/>
<path d="M1057.33 245.85 L1056.13 250.15 M1057.93 245.85 L1059.13 250.15" stroke="#444" stroke-width="1" fill="none"/>
<ellipse cx="1057.95" cy="254.06" rx="1.7" ry="2.8" fill="#303030"/>
<circle cx="1058.25" cy="250.56" r="1.15" fill="#303030"/>
<path d="M1057.65 256.26 L1055.65 260.56 M1058.25 256.26 L1060.25 260.56" stroke="#303030" stroke-width="1" fill="none"/>
<ellipse cx="1062.43" cy="259.66" rx="1.7" ry="2.8" fill="#3c3c3c"/>
<circle cx="1062.73" cy="256.16" r="1.15" fill="#3c3c3c"/>
<path d="M1062.13 261.86 L1060.93 266.16 M1062.73 261.86 L1063.93 266.16" stroke="#3c3c3c" stroke-width="1" fill="none"/>
<ellipse cx="1063.55" cy="240.45" rx="1.7" ry="2.8" fill="#353535"/>
<circle cx="1063.85" cy="236.95" r="1.15" fill="#353535"/>
<path d="M1063.25 242.65 L1061.25 246.95 M1063.85 242.65 L1065.85 246.95" stroke="#353535" stroke-width="1" fill="none"/>
<ellipse cx="1069.64" cy="252.46" rx="1.7" ry="2.8" fill="#444"/>
<circle cx="1069.94" cy="248.96" r="1.15" fill="#444"/>
<path d="M1069.34 254.66 L1068.14 258.96 M1069.94 254.66 L1071.14 258.96" stroke="#444" stroke-width="1" fill="none"/>
<ellipse cx="1075.24" cy="247.65" rx="1.7" ry="2.8" fill="#303030"/>
<circle cx="1075.54" cy="244.15" r="1.15" fill="#303030"/>
<path d="M1074.94 249.85 L1072.94 254.15 M1075.54 249.85 L1077.54 254.15" stroke="#303030" stroke-width="1" fill="none"/>
<ellipse cx="1084.05" cy="252.46" rx="1.7" ry="2.8" fill="#3c3c3c"/>
<circle cx="1084.35" cy="248.96" r="1.15" fill="#3c3c3c"/>
<path d="M1083.75 254.66 L1082.55 258.96 M1084.35 254.66 L1085.55 258.96" stroke="#3c3c3c" stroke-width="1" fill="none"/>
<ellipse cx="1099.58" cy="260.46" rx="1.7" ry="2.8" fill="#353535"/>
<circle cx="1099.88" cy="256.96" r="1.15" fill="#353535"/>
<path d="M1099.28 262.66 L1097.28 266.96 M1099.88 262.66 L1101.88 266.96" stroke="#353535" stroke-width="1" fill="none"/>
<ellipse cx="1112.07" cy="250.86" rx="1.7" ry="2.8" fill="#444"/>
<circle cx="1112.37" cy="247.36" r="1.15" fill="#444"/>
<path d="M1111.77 253.06 L1110.57 257.36 M1112.37 253.06 L1113.57 257.36" stroke="#444" stroke-width="1" fill="none"/>
<ellipse cx="1135.61" cy="239.65" rx="1.7" ry="2.8" fill="#303030"/>
<circle cx="1135.91" cy="236.15" r="1.15" fill="#303030"/>
<path d="M1135.31 241.85 L1133.31 246.15 M1135.91 241.85 L1137.91 246.15" stroke="#303030" stroke-width="1" fill="none"/>
<ellipse cx="1143.3" cy="250.86" rx="1.7" ry="2.8" fill="#3c3c3c"/>
<circle cx="1143.6" cy="247.36" r="1.15" fill="#3c3c3c"/>
<path d="M1143 253.06 L1141.8 257.36 M1143.6 253.06 L1144.8 257.36" stroke="#3c3c3c" stroke-width="1" fill="none"/>
<ellipse cx="1146.5" cy="239.65" rx="1.7" ry="2.8" fill="#353535"/>
<circle cx="1146.8" cy="236.15" r="1.15" fill="#353535"/>
<path d="M1146.2 241.85 L1144.2 246.15 M1146.8 241.85 L1148.8 246.15" stroke="#353535" stroke-width="1" fill="none"/>
<ellipse cx="1148.1" cy="246.85" rx="1.7" ry="2.8" fill="#444"/>
<circle cx="1148.4" cy="243.35" r="1.15" fill="#444"/>
<path d="M1147.8 249.05 L1146.6 253.35 M1148.4 249.05 L1149.6 253.35" stroke="#444" stroke-width="1" fill="none"/>
<ellipse cx="1172.44" cy="273.27" rx="1.7" ry="2.8" fill="#303030"/>
<circle cx="1172.74" cy="269.77" r="1.15" fill="#303030"/>
<path d="M1172.14 275.47 L1170.14 279.77 M1172.74 275.47 L1174.74 279.77" stroke="#303030" stroke-width="1" fill="none"/>
<ellipse cx="1188.94" cy="245.25" rx="1.7" ry="2.8" fill="#3c3c3c"/>
<circle cx="1189.24" cy="241.75" r="1.15" fill="#3c3c3c"/>
<path d="M1188.64 247.45 L1187.44 251.75 M1189.24 247.45 L1190.44 251.75" stroke="#3c3c3c" stroke-width="1" fill="none"/>
<ellipse cx="1192.94" cy="254.86" rx="1.7" ry="2.8" fill="#353535"/>
<circle cx="1193.24" cy="251.36" r="1.15" fill="#353535"/>
<path d="M1192.64 257.06 L1190.64 261.36 M1193.24 257.06 L1195.24 261.36" stroke="#353535" stroke-width="1" fill="none"/>
</g>
<rect x="991.55" y="42.8" width="363.45" height="270.35" fill="none" stroke="#3c3c3c" stroke-width="1"/>
<path d="M991.55 313.15v4M1031.93 313.15v4M1072.32 313.15v4M1112.7 313.15v4M1153.08 313.15v4M1193.47 313.15v4M1233.85 313.15v4M1274.23 313.15v4M1314.62 313.15v4M1355 313.15v4M991.55 300.75h-4M991.55 251.57h-4M991.55 202.39h-4M991.55 153.21h-4M991.55 104.03h-4M991.55 54.85h-4" stroke="#4a4a4a" stroke-width="1.1" fill="none"/>
<text class="tk" transform="translate(992 338.6) scale(1.025 1.09)" text-anchor="middle">0</text>
<text class="tk" transform="translate(1032.38 338.6) scale(1.025 1.09)" text-anchor="middle">20</text>
<text class="tk" transform="translate(1072.77 338.6) scale(1.025 1.09)" text-anchor="middle">40</text>
<text class="tk" transform="translate(1113.15 338.6) scale(1.025 1.09)" text-anchor="middle">60</text>
<text class="tk" transform="translate(1153.53 338.6) scale(1.025 1.09)" text-anchor="middle">80</text>
<text class="tk" transform="translate(1193.92 338.6) scale(1.025 1.09)" text-anchor="middle">100</text>
<text class="tk" transform="translate(1234.3 338.6) scale(1.025 1.09)" text-anchor="middle">120</text>
<text class="tk" transform="translate(1274.68 338.6) scale(1.025 1.09)" text-anchor="middle">140</text>
<text class="tk" transform="translate(1315.07 338.6) scale(1.025 1.09)" text-anchor="middle">160</text>
<text class="tk" transform="translate(1355.45 338.6) scale(1.025 1.09)" text-anchor="middle">180</text>
<text class="tk" transform="translate(980.4 309.8) scale(1.025 1.09)" text-anchor="end">0.0</text>
<text class="tk" transform="translate(980.4 260.62) scale(1.025 1.09)" text-anchor="end">0.2</text>
<text class="tk" transform="translate(980.4 211.44) scale(1.025 1.09)" text-anchor="end">0.4</text>
<text class="tk" transform="translate(980.4 162.26) scale(1.025 1.09)" text-anchor="end">0.6</text>
<text class="tk" transform="translate(980.4 113.08) scale(1.025 1.09)" text-anchor="end">0.8</text>
<text class="tk" transform="translate(980.4 63.9) scale(1.025 1.09)" text-anchor="end">1.0</text>
<text class="lb" transform="translate(1170.5 370.8) scale(1.022 1.09)" text-anchor="middle">Frames</text>
<text class="lb" transform="translate(934.2 174) rotate(-90) scale(1.022 1.04)" text-anchor="middle">Score</text>
<text class="tt" transform="translate(1174.95 34.8) scale(1.025 1.09)" text-anchor="middle">UCSD Ped2 “06”</text>
</g>
<g>
<rect x="1607.8" y="42.8" width="188.4" height="270.55" fill="#ff8080"/>
<polyline clip-path="url(#ac3)" points="1440.54,281.62 1441.77,266.22 1443.21,253.91 1445.26,246.1 1447.73,244.87 1451.01,241.59 1453.89,240.77 1456.15,237.89 1459.64,237.48 1471.54,237.48 1474.01,229.27 1484.89,229.27 1486.73,230.71 1488.38,228.86 1490.43,228.65 1492.48,211.2 1494.54,210.18 1503.77,210.18 1505.42,212.85 1506.85,233.38 1508.29,266.22 1509.93,269.71 1516.71,269.92 1517.73,278.54 1518.76,287.78 1520.81,278.13 1532.51,278.13 1534.57,290.86 1537.03,300.71 1540.73,300.71 1543.19,291.89 1545.45,278.54 1547.5,273.41 1557.15,273.41 1559.2,280.18 1564.75,280.18 1565.98,288.81 1567,297.43 1568.44,284.7 1570.08,276.49 1572.14,274.44 1576.65,273.41 1578.71,241.59 1591.02,202.58 1594.72,198.07 1595.54,197.35 1603.34,197.35 1604.16,198.07 1619.76,200.53 1623.87,212.85 1648.51,204.24 1649.53,198.08 1650.97,187.81 1652.61,180.63 1654.25,175.49 1656.31,168.92 1657.74,154.96 1659.18,122.12 1660.82,81.06 1662.06,54.37 1678.27,54.37 1679.3,91.32 1680.33,130.95 1696.75,130.95 1698.8,124.17 1701.88,123.14 1703.94,119.04 1706.4,111.44 1714.61,111.44 1716.66,121.09 1719.33,122.53 1722.41,124.58 1724.47,128.28 1726.52,140.59 1728.98,155.99 1730.62,157.02 1732.68,164.2 1734.73,170.36 1736.78,172.83 1738.84,175.49 1740.89,175.08 1742.53,191.92 1744.99,192.94 1748.07,195 1751.15,195.61 1753.21,194.38 1755.26,196.02 1763.47,196.02 1766.96,194.38 1767.17,194.78 1769.22,201.56 1773.74,202.17 1776.82,204.02 1779.89,206.28 1784,206.28 1785.64,208.74 1787.08,221.06 1789.13,241.59 1791.19,262.12 1793.65,281" fill="none" stroke="#0000ff" stroke-width="2.05" stroke-linejoin="round" stroke-linecap="butt"/>
<line x1="1660.41" y1="198.08" x2="1700.86" y2="125.71" stroke="#000" stroke-width="0.9"/>
<polygon points="1710.51,109.8 1692.64,121.09 1709.07,130.33" fill="#000"/>
<g clip-path="url(#ic3)">
<rect x="1572.1" y="197.9" width="164.25" height="109.1" fill="#595959"/>
<g filter="url(#soft)">
<rect x="1563.89" y="192.44" width="59.13" height="19.64" fill="#3a3a3a"/>
<rect x="1563.89" y="212.08" width="49.27" height="15.27" fill="#4e4e4e"/>
<rect x="1627.94" y="192.44" width="24.64" height="20.73" fill="#484848"/>
<rect x="1651.27" y="192.44" width="75.23" height="21.82" fill="#666666"/>
<rect x="1726" y="192.44" width="18.56" height="28.37" fill="#747474"/>
<polygon points="1610.7,226.27 1610.7,216.45 1616.45,212.63 1631.23,211.54 1646.01,212.63 1657.51,211.54 1673.93,212.08 1687.07,210.45 1703.5,211.54 1719.92,213.17 1725.67,215.36 1726.49,220.81 1744.56,219.72 1744.56,229.54 1703.5,228.99 1673.93,226.81 1637.8,226.48" fill="#3e3e3e"/>
<rect x="1697.26" y="220.27" width="11.99" height="7.09" fill="#6e6e6e"/>
<rect x="1705.96" y="220.81" width="9.03" height="1.64" fill="#8a8a8a"/>
</g>
<polygon points="1622.36,196.81 1630.24,196.81 1611.19,224.63 1601.83,251.36 1590.82,251.36 1602.32,224.63" fill="#909090"/>
<polygon points="1563.89,250.05 1590.99,250.05 1601.66,251.03 1724.03,251.03 1724.03,248.96 1744.56,248.96 1744.56,312.45 1563.89,312.45" fill="url(#pav)"/>
<line x1="1601.66" y1="251.03" x2="1583.6" y2="274.27" stroke="#a2a2a2" stroke-width="0.5"/>
<line x1="1627.12" y1="251.03" x2="1623.84" y2="276.45" stroke="#a2a2a2" stroke-width="0.5"/>
<line x1="1667.36" y1="251.03" x2="1668.19" y2="276.45" stroke="#a2a2a2" stroke-width="0.5"/>
<line x1="1703.5" y1="251.03" x2="1706.78" y2="276.45" stroke="#a2a2a2" stroke-width="0.5"/>
<line x1="1572.1" y1="274.27" x2="1736.35" y2="274.27" stroke="#a2a2a2" stroke-width="0.5"/>
<line x1="1608.23" y1="274.27" x2="1593.45" y2="307" stroke="#a2a2a2" stroke-width="0.5"/>
<line x1="1642.73" y1="276.45" x2="1639.44" y2="307" stroke="#a2a2a2" stroke-width="0.5"/>
<line x1="1685.43" y1="274.27" x2="1686.25" y2="307" stroke="#a2a2a2" stroke-width="0.5"/>
<line x1="1593.45" y1="290.63" x2="1724.85" y2="290.63" stroke="#a2a2a2" stroke-width="0.5"/>
<polygon points="1563.89,299.69 1593.45,299.69 1590.99,312.45 1563.89,312.45" fill="#464646"/>
<polygon points="1686.09,301.55 1724.85,301 1723.7,286.82 1744.56,286.82 1744.56,312.45 1686.09,312.45" fill="#424242"/>
<line x1="1609.06" y1="203.36" x2="1609.55" y2="247" stroke="#2a2a2a" stroke-width="1.3"/>
<rect x="1606.92" y="201.17" width="4.6" height="2.73" fill="#b0b0b0"/>
<line x1="1728.96" y1="207.72" x2="1728.14" y2="244.81" stroke="#363636" stroke-width="1.1"/>
<rect x="1726.49" y="206.08" width="5.75" height="1.64" fill="#3c3c3c"/>
<line x1="1707.11" y1="220.81" x2="1707.11" y2="249.18" stroke="#686868" stroke-width="0.6"/>
<line x1="1583.27" y1="197.9" x2="1583.27" y2="221.9" stroke="#363636" stroke-width="1"/>
<g filter="url(#soft)">
<ellipse cx="1575.63" cy="255.13" rx="2" ry="4.6" fill="#3a3a3a" fill-opacity="0.75"/>
<ellipse cx="1587.33" cy="243.84" rx="2" ry="4.6" fill="#3a3a3a" fill-opacity="0.75"/>
<ellipse cx="1592.05" cy="259.24" rx="2" ry="4.6" fill="#3a3a3a" fill-opacity="0.75"/>
<ellipse cx="1593.49" cy="250" rx="2" ry="4.6" fill="#3a3a3a" fill-opacity="0.75"/>
<ellipse cx="1604.37" cy="265.4" rx="2" ry="4.6" fill="#3a3a3a" fill-opacity="0.75"/>
<ellipse cx="1610.53" cy="256.16" rx="2" ry="4.6" fill="#3a3a3a" fill-opacity="0.75"/>
<ellipse cx="1618.74" cy="262.32" rx="2" ry="4.6" fill="#3a3a3a" fill-opacity="0.75"/>
<ellipse cx="1621.82" cy="256.16" rx="2" ry="4.6" fill="#3a3a3a" fill-opacity="0.75"/>
<ellipse cx="1638.86" cy="267.45" rx="2" ry="4.6" fill="#3a3a3a" fill-opacity="0.75"/>
<ellipse cx="1648.51" cy="255.13" rx="2" ry="4.6" fill="#3a3a3a" fill-opacity="0.75"/>
<ellipse cx="1663.9" cy="262.32" rx="2" ry="4.6" fill="#3a3a3a" fill-opacity="0.75"/>
<ellipse cx="1665.34" cy="252.05" rx="2" ry="4.6" fill="#3a3a3a" fill-opacity="0.75"/>
<ellipse cx="1668.01" cy="244.87" rx="2" ry="4.6" fill="#3a3a3a" fill-opacity="0.75"/>
<ellipse cx="1682.38" cy="257.19" rx="2" ry="4.6" fill="#3a3a3a" fill-opacity="0.75"/>
<ellipse cx="1687.92" cy="263.34" rx="2" ry="4.6" fill="#3a3a3a" fill-opacity="0.75"/>
<ellipse cx="1692.64" cy="251.03" rx="2" ry="4.6" fill="#3a3a3a" fill-opacity="0.75"/>
<ellipse cx="1701.88" cy="256.16" rx="2" ry="4.6" fill="#3a3a3a" fill-opacity="0.75"/>
<ellipse cx="1706.4" cy="244.87" rx="2" ry="4.6" fill="#3a3a3a" fill-opacity="0.75"/>
<ellipse cx="1709.07" cy="251.03" rx="2" ry="4.6" fill="#3a3a3a" fill-opacity="0.75"/>
<ellipse cx="1721.39" cy="251.03" rx="2" ry="4.6" fill="#3a3a3a" fill-opacity="0.75"/>
<ellipse cx="1723.44" cy="265.4" rx="2" ry="4.6" fill="#3a3a3a" fill-opacity="0.75"/>
<ellipse cx="1730.62" cy="255.13" rx="2" ry="4.6" fill="#3a3a3a" fill-opacity="0.75"/>
</g>
<ellipse cx="1575.63" cy="254.53" rx="1.7" ry="2.8" fill="#303030"/>
<circle cx="1575.93" cy="251.03" r="1.15" fill="#303030"/>
<path d="M1575.33 256.73 L1573.33 261.03 M1575.93 256.73 L1577.93 261.03" stroke="#303030" stroke-width="1" fill="none"/>
<ellipse cx="1587.33" cy="243.24" rx="1.7" ry="2.8" fill="#3c3c3c"/>
<circle cx="1587.63" cy="239.74" r="1.15" fill="#3c3c3c"/>
<path d="M1587.03 245.44 L1585.83 249.74 M1587.63 245.44 L1588.83 249.74" stroke="#3c3c3c" stroke-width="1" fill="none"/>
<ellipse cx="1592.05" cy="258.64" rx="1.7" ry="2.8" fill="#353535"/>
<circle cx="1592.35" cy="255.14" r="1.15" fill="#353535"/>
<path d="M1591.75 260.84 L1589.75 265.14 M1592.35 260.84 L1594.35 265.14" stroke="#353535" stroke-width="1" fill="none"/>
<ellipse cx="1593.49" cy="249.4" rx="1.7" ry="2.8" fill="#444"/>
<circle cx="1593.79" cy="245.9" r="1.15" fill="#444"/>
<path d="M1593.19 251.6 L1591.99 255.9 M1593.79 251.6 L1594.99 255.9" stroke="#444" stroke-width="1" fill="none"/>
<ellipse cx="1604.37" cy="264.8" rx="1.7" ry="2.8" fill="#303030"/>
<circle cx="1604.67" cy="261.3" r="1.15" fill="#303030"/>
<path d="M1604.07 267 L1602.07 271.3 M1604.67 267 L1606.67 271.3" stroke="#303030" stroke-width="1" fill="none"/>
<ellipse cx="1610.53" cy="255.56" rx="1.7" ry="2.8" fill="#3c3c3c"/>
<circle cx="1610.83" cy="252.06" r="1.15" fill="#3c3c3c"/>
<path d="M1610.23 257.76 L1609.03 262.06 M1610.83 257.76 L1612.03 262.06" stroke="#3c3c3c" stroke-width="1" fill="none"/>
<ellipse cx="1618.74" cy="261.72" rx="1.7" ry="2.8" fill="#353535"/>
<circle cx="1619.04" cy="258.22" r="1.15" fill="#353535"/>
<path d="M1618.44 263.92 L1616.44 268.22 M1619.04 263.92 L1621.04 268.22" stroke="#353535" stroke-width="1" fill="none"/>
<ellipse cx="1621.82" cy="255.56" rx="1.7" ry="2.8" fill="#444"/>
<circle cx="1622.12" cy="252.06" r="1.15" fill="#444"/>
<path d="M1621.52 257.76 L1620.32 262.06 M1622.12 257.76 L1623.32 262.06" stroke="#444" stroke-width="1" fill="none"/>
<ellipse cx="1638.86" cy="266.85" rx="1.7" ry="2.8" fill="#303030"/>
<circle cx="1639.16" cy="263.35" r="1.15" fill="#303030"/>
<path d="M1638.56 269.05 L1636.56 273.35 M1639.16 269.05 L1641.16 273.35" stroke="#303030" stroke-width="1" fill="none"/>
<ellipse cx="1648.51" cy="254.53" rx="1.7" ry="2.8" fill="#3c3c3c"/>
<circle cx="1648.81" cy="251.03" r="1.15" fill="#3c3c3c"/>
<path d="M1648.21 256.73 L1647.01 261.03 M1648.81 256.73 L1650.01 261.03" stroke="#3c3c3c" stroke-width="1" fill="none"/>
<ellipse cx="1663.9" cy="261.72" rx="1.7" ry="2.8" fill="#353535"/>
<circle cx="1664.2" cy="258.22" r="1.15" fill="#353535"/>
<path d="M1663.6 263.92 L1661.6 268.22 M1664.2 263.92 L1666.2 268.22" stroke="#353535" stroke-width="1" fill="none"/>
<ellipse cx="1665.34" cy="251.45" rx="1.7" ry="2.8" fill="#444"/>
<circle cx="1665.64" cy="247.95" r="1.15" fill="#444"/>
<path d="M1665.04 253.65 L1663.84 257.95 M1665.64 253.65 L1666.84 257.95" stroke="#444" stroke-width="1" fill="none"/>
<ellipse cx="1668.01" cy="244.27" rx="1.7" ry="2.8" fill="#303030"/>
<circle cx="1668.31" cy="240.77" r="1.15" fill="#303030"/>
<path d="M1667.71 246.47 L1665.71 250.77 M1668.31 246.47 L1670.31 250.77" stroke="#303030" stroke-width="1" fill="none"/>
<ellipse cx="1682.38" cy="256.59" rx="1.7" ry="2.8" fill="#3c3c3c"/>
<circle cx="1682.68" cy="253.09" r="1.15" fill="#3c3c3c"/>
<path d="M1682.08 258.79 L1680.88 263.09 M1682.68 258.79 L1683.88 263.09" stroke="#3c3c3c" stroke-width="1" fill="none"/>
<ellipse cx="1687.92" cy="262.74" rx="1.7" ry="2.8" fill="#353535"/>
<circle cx="1688.22" cy="259.24" r="1.15" fill="#353535"/>
<path d="M1687.62 264.94 L1685.62 269.24 M1688.22 264.94 L1690.22 269.24" stroke="#353535" stroke-width="1" fill="none"/>
<ellipse cx="1692.64" cy="250.43" rx="1.7" ry="2.8" fill="#444"/>
<circle cx="1692.94" cy="246.93" r="1.15" fill="#444"/>
<path d="M1692.34 252.63 L1691.14 256.93 M1692.94 252.63 L1694.14 256.93" stroke="#444" stroke-width="1" fill="none"/>
<ellipse cx="1701.88" cy="255.56" rx="1.7" ry="2.8" fill="#303030"/>
<circle cx="1702.18" cy="252.06" r="1.15" fill="#303030"/>
<path d="M1701.58 257.76 L1699.58 262.06 M1702.18 257.76 L1704.18 262.06" stroke="#303030" stroke-width="1" fill="none"/>
<ellipse cx="1706.4" cy="244.27" rx="1.7" ry="2.8" fill="#3c3c3c"/>
<circle cx="1706.7" cy="240.77" r="1.15" fill="#3c3c3c"/>
<path d="M1706.1 246.47 L1704.9 250.77 M1706.7 246.47 L1707.9 250.77" stroke="#3c3c3c" stroke-width="1" fill="none"/>
<ellipse cx="1709.07" cy="250.43" rx="1.7" ry="2.8" fill="#353535"/>
<circle cx="1709.37" cy="246.93" r="1.15" fill="#353535"/>
<path d="M1708.77 252.63 L1706.77 256.93 M1709.37 252.63 L1711.37 256.93" stroke="#353535" stroke-width="1" fill="none"/>
<ellipse cx="1721.39" cy="250.43" rx="1.7" ry="2.8" fill="#444"/>
<circle cx="1721.69" cy="246.93" r="1.15" fill="#444"/>
<path d="M1721.09 252.63 L1719.89 256.93 M1721.69 252.63 L1722.89 256.93" stroke="#444" stroke-width="1" fill="none"/>
<ellipse cx="1723.44" cy="264.8" rx="1.7" ry="2.8" fill="#303030"/>
<circle cx="1723.74" cy="261.3" r="1.15" fill="#303030"/>
<path d="M1723.14 267 L1721.14 271.3 M1723.74 267 L1725.74 271.3" stroke="#303030" stroke-width="1" fill="none"/>
<ellipse cx="1730.62" cy="254.53" rx="1.7" ry="2.8" fill="#3c3c3c"/>
<circle cx="1730.92" cy="251.03" r="1.15" fill="#3c3c3c"/>
<path d="M1730.32 256.73 L1729.12 261.03 M1730.92 256.73 L1732.12 261.03" stroke="#3c3c3c" stroke-width="1" fill="none"/>
</g>
<rect x="1440.6" y="42.8" width="363.2" height="270.55" fill="none" stroke="#3c3c3c" stroke-width="1"/>
<path d="M1440.6 313.35v4M1480.96 313.35v4M1521.31 313.35v4M1561.67 313.35v4M1602.02 313.35v4M1642.38 313.35v4M1682.73 313.35v4M1723.09 313.35v4M1763.44 313.35v4M1803.8 313.35v4M1440.6 300.95h-4M1440.6 251.77h-4M1440.6 202.59h-4M1440.6 153.41h-4M1440.6 104.23h-4M1440.6 55.05h-4" stroke="#4a4a4a" stroke-width="1.1" fill="none"/>
<text class="tk" transform="translate(1439.3 338.6) scale(1.025 1.09)" text-anchor="middle">0</text>
<text class="tk" transform="translate(1479.68 338.6) scale(1.025 1.09)" text-anchor="middle">20</text>
<text class="tk" transform="translate(1520.07 338.6) scale(1.025 1.09)" text-anchor="middle">40</text>
<text class="tk" transform="translate(1560.45 338.6) scale(1.025 1.09)" text-anchor="middle">60</text>
<text class="tk" transform="translate(1600.83 338.6) scale(1.025 1.09)" text-anchor="middle">80</text>
<text class="tk" transform="translate(1641.22 338.6) scale(1.025 1.09)" text-anchor="middle">100</text>
<text class="tk" transform="translate(1681.6 338.6) scale(1.025 1.09)" text-anchor="middle">120</text>
<text class="tk" transform="translate(1721.98 338.6) scale(1.025 1.09)" text-anchor="middle">140</text>
<text class="tk" transform="translate(1762.37 338.6) scale(1.025 1.09)" text-anchor="middle">160</text>
<text class="tk" transform="translate(1802.75 338.6) scale(1.025 1.09)" text-anchor="middle">180</text>
<text class="tk" transform="translate(1429.2 309) scale(1.025 1.09)" text-anchor="end">0.0</text>
<text class="tk" transform="translate(1429.2 259.82) scale(1.025 1.09)" text-anchor="end">0.2</text>
<text class="tk" transform="translate(1429.2 210.64) scale(1.025 1.09)" text-anchor="end">0.4</text>
<text class="tk" transform="translate(1429.2 161.46) scale(1.025 1.09)" text-anchor="end">0.6</text>
<text class="tk" transform="translate(1429.2 112.28) scale(1.025 1.09)" text-anchor="end">0.8</text>
<text class="tk" transform="translate(1429.2 63.1) scale(1.025 1.09)" text-anchor="end">1.0</text>
<text class="lb" transform="translate(1617.8 370.8) scale(1.022 1.09)" text-anchor="middle">Frames</text>
<text class="lb" transform="translate(1383 173.2) rotate(-90) scale(1.022 1.04)" text-anchor="middle">Score</text>
<text class="tt" transform="translate(1617.4 34.8) scale(1.025 1.09)" text-anchor="middle">UCSD Ped2 “12”</text>
</g>
<g>
<rect x="205.9" y="432.75" width="243.4" height="270.25" fill="#ff8080"/>
<polyline clip-path="url(#ac4)" points="93.54,682.15 99.29,682.15 101.96,679.89 108.53,679.89 110.17,683.18 111.61,687.69 113.66,689.95 123.31,689.95 125.36,686.87 127.42,680.1 129.06,678.04 130.5,666.75 132.14,650.33 133.58,642.12 135.63,637.4 137.27,636.37 139.32,629.8 141.79,621.59 143.84,619.74 145.89,619.54 147.95,617.48 151.64,617.48 153.69,619.54 156.16,622 157.8,619.54 159.44,614.4 161.5,612.97 163.96,607.63 166.01,603.52 169.09,603.11 175.25,603.11 176.89,604.75 178.33,607.83 180.38,608.65 182.02,610.71 188.18,610.71 189.62,604.14 191.26,590.79 192.7,581.56 194.34,579.09 199.89,579.09 201.32,584.64 202.96,601.06 204.4,611.32 206.45,617.89 210.15,617.89 211.18,605.16 212.2,592.85 213.85,585.66 214.87,572.32 215.09,568.18 216.13,555.62 218.23,548.29 220.32,541.59 222.41,540.96 224.51,528.4 226.6,519.61 228.69,516.89 232.46,516.47 234.56,505.37 236.65,494.9 238.33,489.67 240.42,472.92 242.51,468.73 244.61,457.85 248.79,457.85 250.68,468.31 264.91,468.31 267.01,471.87 269.1,477.74 271.2,485.48 274.34,489.67 276.43,493.86 278.52,496.58 280.62,511.65 283.13,528.4 285.85,528.82 288.99,531.54 296.74,531.54 299.04,528.82 300.93,527.98 302.6,510.61 304.69,508.09 306.79,499.09 308.88,490.3 325.21,490.3 327.31,495.95 329.19,499.72 331.91,500.77 335.05,504.33 343.01,504.33 345.52,501.18 348.66,498.04 351.38,497.63 352.85,477.11 354.94,473.97 357.66,470.83 369.6,470.83 372.32,472.5 375.46,468.73 377.97,472.5 381.11,476.48 383.63,478.57 385.3,480.25 387.81,480.88 389.91,489.67 392,492.39 394.09,498.67 395.77,492.39 399.96,491.13 401.63,479.2 404.14,474.6 410.42,474.39 413.56,471.87 415.66,456.17 417.75,446.75 419.43,444.24 421.94,445.7 424.66,444.03 428.22,444.03 430.31,445.7 437.64,445.7 440.78,447.17 443.92,447.38 445.6,451.98 447.06,458.26" fill="none" stroke="#0000ff" stroke-width="2.05" stroke-linejoin="round" stroke-linecap="butt"/>
<line x1="331.91" y1="592.89" x2="374.31" y2="494.17" stroke="#000" stroke-width="0.9"/>
<polygon points="381.74,477.74 365.41,490.3 383.21,498.04" fill="#000"/>
<g clip-path="url(#ic4)">
<rect x="236.05" y="592.7" width="164.25" height="109.1" fill="#595959"/>
<g filter="url(#soft)">
<rect x="227.84" y="587.25" width="59.13" height="19.64" fill="#3a3a3a"/>
<rect x="227.84" y="606.88" width="49.27" height="15.27" fill="#4e4e4e"/>
<rect x="291.9" y="587.25" width="24.64" height="20.73" fill="#484848"/>
<rect x="315.22" y="587.25" width="75.23" height="21.82" fill="#666666"/>
<rect x="389.95" y="587.25" width="18.56" height="28.37" fill="#747474"/>
<polygon points="274.65,621.07 274.65,611.25 280.4,607.43 295.18,606.34 309.96,607.43 321.46,606.34 337.88,606.88 351.02,605.25 367.45,606.34 383.88,607.97 389.62,610.16 390.44,615.61 408.51,614.52 408.51,624.34 367.45,623.79 337.88,621.61 301.75,621.28" fill="#3e3e3e"/>
<rect x="361.21" y="615.07" width="11.99" height="7.09" fill="#6e6e6e"/>
<rect x="369.91" y="615.61" width="9.03" height="1.64" fill="#8a8a8a"/>
</g>
<polygon points="286.31,591.61 294.19,591.61 275.14,619.43 265.78,646.16 254.77,646.16 266.27,619.43" fill="#909090"/>
<polygon points="227.84,644.85 254.94,644.85 265.62,645.83 387.98,645.83 387.98,643.76 408.51,643.76 408.51,707.25 227.84,707.25" fill="url(#pav)"/>
<line x1="265.62" y1="645.83" x2="247.55" y2="669.07" stroke="#a2a2a2" stroke-width="0.5"/>
<line x1="291.07" y1="645.83" x2="287.79" y2="671.25" stroke="#a2a2a2" stroke-width="0.5"/>
<line x1="331.31" y1="645.83" x2="332.14" y2="671.25" stroke="#a2a2a2" stroke-width="0.5"/>
<line x1="367.45" y1="645.83" x2="370.74" y2="671.25" stroke="#a2a2a2" stroke-width="0.5"/>
<line x1="236.05" y1="669.07" x2="400.3" y2="669.07" stroke="#a2a2a2" stroke-width="0.5"/>
<line x1="272.19" y1="669.07" x2="257.4" y2="701.8" stroke="#a2a2a2" stroke-width="0.5"/>
<line x1="306.68" y1="671.25" x2="303.39" y2="701.8" stroke="#a2a2a2" stroke-width="0.5"/>
<line x1="349.38" y1="669.07" x2="350.2" y2="701.8" stroke="#a2a2a2" stroke-width="0.5"/>
<line x1="257.4" y1="685.44" x2="388.8" y2="685.44" stroke="#a2a2a2" stroke-width="0.5"/>
<polygon points="227.84,694.49 257.4,694.49 254.94,707.25 227.84,707.25" fill="#464646"/>
<polygon points="350.04,696.35 388.8,695.8 387.65,681.62 408.51,681.62 408.51,707.25 350.04,707.25" fill="#424242"/>
<line x1="273.01" y1="598.16" x2="273.5" y2="641.8" stroke="#2a2a2a" stroke-width="1.3"/>
<rect x="270.87" y="595.97" width="4.6" height="2.73" fill="#b0b0b0"/>
<line x1="392.91" y1="602.52" x2="392.09" y2="639.61" stroke="#363636" stroke-width="1.1"/>
<rect x="390.44" y="600.88" width="5.75" height="1.64" fill="#3c3c3c"/>
<line x1="371.06" y1="615.61" x2="371.06" y2="643.98" stroke="#686868" stroke-width="0.6"/>
<line x1="247.22" y1="592.7" x2="247.22" y2="616.7" stroke="#363636" stroke-width="1"/>
<circle cx="293.41" cy="658.13" r="3.1" fill="none" stroke="#505050" stroke-width="0.8"/>
<circle cx="302.21" cy="658.13" r="3.1" fill="none" stroke="#505050" stroke-width="0.8"/>
<g filter="url(#soft)">
<ellipse cx="238.89" cy="652.58" rx="2" ry="4.6" fill="#3a3a3a" fill-opacity="0.75"/>
<ellipse cx="245.67" cy="658.74" rx="2" ry="4.6" fill="#3a3a3a" fill-opacity="0.75"/>
<ellipse cx="250.18" cy="649.5" rx="2" ry="4.6" fill="#3a3a3a" fill-opacity="0.75"/>
<ellipse cx="259.42" cy="642.32" rx="2" ry="4.6" fill="#3a3a3a" fill-opacity="0.75"/>
<ellipse cx="263.53" cy="652.58" rx="2" ry="4.6" fill="#3a3a3a" fill-opacity="0.75"/>
<ellipse cx="268.66" cy="648.48" rx="2" ry="4.6" fill="#3a3a3a" fill-opacity="0.75"/>
<ellipse cx="272.76" cy="639.24" rx="2" ry="4.6" fill="#3a3a3a" fill-opacity="0.75"/>
<ellipse cx="297.4" cy="648.48" rx="2" ry="4.6" fill="#3a3a3a" fill-opacity="0.75"/>
<ellipse cx="312.18" cy="664.9" rx="2" ry="4.6" fill="#3a3a3a" fill-opacity="0.75"/>
<ellipse cx="317.93" cy="652.58" rx="2" ry="4.6" fill="#3a3a3a" fill-opacity="0.75"/>
<ellipse cx="320.6" cy="638.21" rx="2" ry="4.6" fill="#3a3a3a" fill-opacity="0.75"/>
<ellipse cx="330.25" cy="653.61" rx="2" ry="4.6" fill="#3a3a3a" fill-opacity="0.75"/>
<ellipse cx="338.87" cy="653.61" rx="2" ry="4.6" fill="#3a3a3a" fill-opacity="0.75"/>
<ellipse cx="339.49" cy="662.85" rx="2" ry="4.6" fill="#3a3a3a" fill-opacity="0.75"/>
<ellipse cx="357.96" cy="641.29" rx="2" ry="4.6" fill="#3a3a3a" fill-opacity="0.75"/>
<ellipse cx="358.58" cy="650.53" rx="2" ry="4.6" fill="#3a3a3a" fill-opacity="0.75"/>
<ellipse cx="361.45" cy="657.71" rx="2" ry="4.6" fill="#3a3a3a" fill-opacity="0.75"/>
<ellipse cx="369.66" cy="649.5" rx="2" ry="4.6" fill="#3a3a3a" fill-opacity="0.75"/>
<ellipse cx="371.72" cy="662.85" rx="2" ry="4.6" fill="#3a3a3a" fill-opacity="0.75"/>
<ellipse cx="381.16" cy="653.61" rx="2" ry="4.6" fill="#3a3a3a" fill-opacity="0.75"/>
<ellipse cx="399.43" cy="661.82" rx="2" ry="4.6" fill="#3a3a3a" fill-opacity="0.75"/>
</g>
<ellipse cx="238.89" cy="651.98" rx="1.7" ry="2.8" fill="#303030"/>
<circle cx="239.19" cy="648.48" r="1.15" fill="#303030"/>
<path d="M238.59 654.18 L236.59 658.48 M239.19 654.18 L241.19 658.48" stroke="#303030" stroke-width="1" fill="none"/>
<ellipse cx="245.67" cy="658.14" rx="1.7" ry="2.8" fill="#3c3c3c"/>
<circle cx="245.97" cy="654.64" r="1.15" fill="#3c3c3c"/>
<path d="M245.37 660.34 L244.17 664.64 M245.97 660.34 L247.17 664.64" stroke="#3c3c3c" stroke-width="1" fill="none"/>
<ellipse cx="250.18" cy="648.9" rx="1.7" ry="2.8" fill="#353535"/>
<circle cx="250.48" cy="645.4" r="1.15" fill="#353535"/>
<path d="M249.88 651.1 L247.88 655.4 M250.48 651.1 L252.48 655.4" stroke="#353535" stroke-width="1" fill="none"/>
<ellipse cx="259.42" cy="641.72" rx="1.7" ry="2.8" fill="#444"/>
<circle cx="259.72" cy="638.22" r="1.15" fill="#444"/>
<path d="M259.12 643.92 L257.92 648.22 M259.72 643.92 L260.92 648.22" stroke="#444" stroke-width="1" fill="none"/>
<ellipse cx="263.53" cy="651.98" rx="1.7" ry="2.8" fill="#303030"/>
<circle cx="263.83" cy="648.48" r="1.15" fill="#303030"/>
<path d="M263.23 654.18 L261.23 658.48 M263.83 654.18 L265.83 658.48" stroke="#303030" stroke-width="1" fill="none"/>
<ellipse cx="268.66" cy="647.88" rx="1.7" ry="2.8" fill="#3c3c3c"/>
<circle cx="268.96" cy="644.38" r="1.15" fill="#3c3c3c"/>
<path d="M268.36 650.08 L267.16 654.38 M268.96 650.08 L270.16 654.38" stroke="#3c3c3c" stroke-width="1" fill="none"/>
<ellipse cx="272.76" cy="638.64" rx="1.7" ry="2.8" fill="#353535"/>
<circle cx="273.06" cy="635.14" r="1.15" fill="#353535"/>
<path d="M272.46 640.84 L270.46 645.14 M273.06 640.84 L275.06 645.14" stroke="#353535" stroke-width="1" fill="none"/>
<ellipse cx="297.4" cy="647.88" rx="1.7" ry="2.8" fill="#444"/>
<circle cx="297.7" cy="644.38" r="1.15" fill="#444"/>
<path d="M297.1 650.08 L295.9 654.38 M297.7 650.08 L298.9 654.38" stroke="#444" stroke-width="1" fill="none"/>
<ellipse cx="312.18" cy="664.3" rx="1.7" ry="2.8" fill="#303030"/>
<circle cx="312.48" cy="660.8" r="1.15" fill="#303030"/>
<path d="M311.88 666.5 L309.88 670.8 M312.48 666.5 L314.48 670.8" stroke="#303030" stroke-width="1" fill="none"/>
<ellipse cx="317.93" cy="651.98" rx="1.7" ry="2.8" fill="#3c3c3c"/>
<circle cx="318.23" cy="648.48" r="1.15" fill="#3c3c3c"/>
<path d="M317.63 654.18 L316.43 658.48 M318.23 654.18 L319.43 658.48" stroke="#3c3c3c" stroke-width="1" fill="none"/>
<ellipse cx="320.6" cy="637.61" rx="1.7" ry="2.8" fill="#353535"/>
<circle cx="320.9" cy="634.11" r="1.15" fill="#353535"/>
<path d="M320.3 639.81 L318.3 644.11 M320.9 639.81 L322.9 644.11" stroke="#353535" stroke-width="1" fill="none"/>
<ellipse cx="330.25" cy="653.01" rx="1.7" ry="2.8" fill="#444"/>
<circle cx="330.55" cy="649.51" r="1.15" fill="#444"/>
<path d="M329.95 655.21 L328.75 659.51 M330.55 655.21 L331.75 659.51" stroke="#444" stroke-width="1" fill="none"/>
<ellipse cx="338.87" cy="653.01" rx="1.7" ry="2.8" fill="#303030"/>
<circle cx="339.17" cy="649.51" r="1.15" fill="#303030"/>
<path d="M338.57 655.21 L336.57 659.51 M339.17 655.21 L341.17 659.51" stroke="#303030" stroke-width="1" fill="none"/>
<ellipse cx="339.49" cy="662.25" rx="1.7" ry="2.8" fill="#3c3c3c"/>
<circle cx="339.79" cy="658.75" r="1.15" fill="#3c3c3c"/>
<path d="M339.19 664.45 L337.99 668.75 M339.79 664.45 L340.99 668.75" stroke="#3c3c3c" stroke-width="1" fill="none"/>
<ellipse cx="357.96" cy="640.69" rx="1.7" ry="2.8" fill="#353535"/>
<circle cx="358.26" cy="637.19" r="1.15" fill="#353535"/>
<path d="M357.66 642.89 L355.66 647.19 M358.26 642.89 L360.26 647.19" stroke="#353535" stroke-width="1" fill="none"/>
<ellipse cx="358.58" cy="649.93" rx="1.7" ry="2.8" fill="#444"/>
<circle cx="358.88" cy="646.43" r="1.15" fill="#444"/>
<path d="M358.28 652.13 L357.08 656.43 M358.88 652.13 L360.08 656.43" stroke="#444" stroke-width="1" fill="none"/>
<ellipse cx="361.45" cy="657.11" rx="1.7" ry="2.8" fill="#303030"/>
<circle cx="361.75" cy="653.61" r="1.15" fill="#303030"/>
<path d="M361.15 659.31 L359.15 663.61 M361.75 659.31 L363.75 663.61" stroke="#303030" stroke-width="1" fill="none"/>
<ellipse cx="369.66" cy="648.9" rx="1.7" ry="2.8" fill="#3c3c3c"/>
<circle cx="369.96" cy="645.4" r="1.15" fill="#3c3c3c"/>
<path d="M369.36 651.1 L368.16 655.4 M369.96 651.1 L371.16 655.4" stroke="#3c3c3c" stroke-width="1" fill="none"/>
<ellipse cx="371.72" cy="662.25" rx="1.7" ry="2.8" fill="#353535"/>
<circle cx="372.02" cy="658.75" r="1.15" fill="#353535"/>
<path d="M371.42 664.45 L369.42 668.75 M372.02 664.45 L374.02 668.75" stroke="#353535" stroke-width="1" fill="none"/>
<ellipse cx="381.16" cy="653.01" rx="1.7" ry="2.8" fill="#444"/>
<circle cx="381.46" cy="649.51" r="1.15" fill="#444"/>
<path d="M380.86 655.21 L379.66 659.51 M381.46 655.21 L382.66 659.51" stroke="#444" stroke-width="1" fill="none"/>
<ellipse cx="399.43" cy="661.22" rx="1.7" ry="2.8" fill="#303030"/>
<circle cx="399.73" cy="657.72" r="1.15" fill="#303030"/>
<path d="M399.13 663.42 L397.13 667.72 M399.73 663.42 L401.73 667.72" stroke="#303030" stroke-width="1" fill="none"/>
</g>
<rect x="93.7" y="432.75" width="363.15" height="270.25" fill="none" stroke="#3c3c3c" stroke-width="1"/>
<path d="M93.7 703v4M134.05 703v4M174.4 703v4M214.75 703v4M255.1 703v4M295.45 703v4M335.8 703v4M376.15 703v4M416.5 703v4M456.85 703v4M93.7 690.6h-4M93.7 641.42h-4M93.7 592.24h-4M93.7 543.06h-4M93.7 493.88h-4M93.7 444.7h-4" stroke="#4a4a4a" stroke-width="1.1" fill="none"/>
<text class="tk" transform="translate(93.2 728.4) scale(1.025 1.09)" text-anchor="middle">0</text>
<text class="tk" transform="translate(133.58 728.4) scale(1.025 1.09)" text-anchor="middle">20</text>
<text class="tk" transform="translate(173.97 728.4) scale(1.025 1.09)" text-anchor="middle">40</text>
<text class="tk" transform="translate(214.35 728.4) scale(1.025 1.09)" text-anchor="middle">60</text>
<text class="tk" transform="translate(254.73 728.4) scale(1.025 1.09)" text-anchor="middle">80</text>
<text class="tk" transform="translate(295.12 728.4) scale(1.025 1.09)" text-anchor="middle">100</text>
<text class="tk" transform="translate(335.5 728.4) scale(1.025 1.09)" text-anchor="middle">120</text>
<text class="tk" transform="translate(375.88 728.4) scale(1.025 1.09)" text-anchor="middle">140</text>
<text class="tk" transform="translate(416.27 728.4) scale(1.025 1.09)" text-anchor="middle">160</text>
<text class="tk" transform="translate(456.65 728.4) scale(1.025 1.09)" text-anchor="middle">180</text>
<text class="tk" transform="translate(82.5 699.5) scale(1.025 1.09)" text-anchor="end">0.0</text>
<text class="tk" transform="translate(82.5 650.32) scale(1.025 1.09)" text-anchor="end">0.2</text>
<text class="tk" transform="translate(82.5 601.14) scale(1.025 1.09)" text-anchor="end">0.4</text>
<text class="tk" transform="translate(82.5 551.96) scale(1.025 1.09)" text-anchor="end">0.6</text>
<text class="tk" transform="translate(82.5 502.78) scale(1.025 1.09)" text-anchor="end">0.8</text>
<text class="tk" transform="translate(82.5 453.6) scale(1.025 1.09)" text-anchor="end">1.0</text>
<text class="lb" transform="translate(271.7 760.6) scale(1.022 1.09)" text-anchor="middle">Frames</text>
<text class="lb" transform="translate(36.3 563.7) rotate(-90) scale(1.022 1.04)" text-anchor="middle">Score</text>
<text class="tt" transform="translate(269.4 424.6) scale(1.025 1.09)" text-anchor="middle">UCSD Ped2 “01”</text>
</g>
<g>
<rect x="723.3" y="432.75" width="174.4" height="270.25" fill="#ff8080"/>
<polyline clip-path="url(#ac5)" points="542.54,685.23 543.77,678.04 545.62,670.86 548.29,667.16 549.73,665.32 553.42,665.11 555.89,661.62 563.69,661.62 565.74,665.11 568.82,668.19 571.49,669.83 573.95,673.94 576.01,679.07 578.06,681.12 582.16,681.53 584.22,684.82 588.32,685.23 591.4,686.26 594.07,686.26 596.12,688.92 598.18,686.26 606.8,686.26 611.93,685.64 613.99,687.28 618.09,687.28 621.17,688.92 624.25,690.36 626.3,690.36 629.38,687.69 631.44,687.28 634.51,688.31 637.59,686.87 640.26,683.59 645.81,683.59 648.89,682.56 651.96,682.15 654.63,681.53 656.69,670.86 658.53,662.03 676.6,662.03 677.83,666.75 679.06,676.4 686.86,676.4 688.92,679.48 693.02,680.1 696.1,681.74 700.21,682.15 703.29,680.71 705.34,678.04 706.98,672.91 709.45,671.47 713.55,670.86 717.25,670.24 719.3,665.73 720.33,664.08 721.76,642.12 722.38,611.32 726.48,555.62 727.1,544.1 729.2,538.87 731.71,534.26 734.85,532.59 736.94,530.08 739.04,528.82 740.5,520.03 742.18,507.47 743.64,490.72 745.32,477.74 746.99,475.01 749.09,463.5 755.37,463.5 757.46,459.94 761.65,459.94 763.53,463.08 771.07,463.5 773.58,466.64 777.77,466.64 779.87,468.1 788.24,468.1 791.38,467.69 799.75,467.69 802.27,464.55 807.08,464.13 809.8,461.82 811.69,463.5 813.78,462.45 815.88,458.89 817.97,450.94 820.69,450.31 823.83,448.84 825.93,445.28 830.11,445.28 832.21,449.26 834.3,444.24 836.39,444.24 838.49,454.71 839.95,456.17 842.26,448.42 843.72,454.71 846.44,448.42 850.42,448.42 852.72,454.71 858.38,454.71 861.1,461.4 864.66,461.4 867.8,463.92 872.61,463.92 874.5,472.92 877.22,479.2 880.36,488.62 883.5,491.76 885.6,497 887.69,509.56 889.78,524.21 891.25,534.68 892.92,555.62 893.97,568.18 895.44,575.51" fill="none" stroke="#0000ff" stroke-width="2.05" stroke-linejoin="round" stroke-linecap="butt"/>
<line x1="771.91" y1="555.62" x2="832.52" y2="467.37" stroke="#000" stroke-width="0.9"/>
<polygon points="843.09,451.98 824.88,461.82 840.16,472.92" fill="#000"/>
<g clip-path="url(#ic5)">
<rect x="686.95" y="555.2" width="164.25" height="109.1" fill="#595959"/>
<g filter="url(#soft)">
<rect x="678.74" y="549.75" width="59.13" height="19.64" fill="#3a3a3a"/>
<rect x="678.74" y="569.38" width="49.27" height="15.27" fill="#4e4e4e"/>
<rect x="742.8" y="549.75" width="24.64" height="20.73" fill="#484848"/>
<rect x="766.12" y="549.75" width="75.23" height="21.82" fill="#666666"/>
<rect x="840.85" y="549.75" width="18.56" height="28.37" fill="#747474"/>
<polygon points="725.55,583.57 725.55,573.75 731.3,569.93 746.08,568.84 760.86,569.93 772.36,568.84 788.79,569.38 801.93,567.75 818.35,568.84 834.78,570.47 840.52,572.66 841.35,578.11 859.41,577.02 859.41,586.84 818.35,586.29 788.79,584.11 752.65,583.78" fill="#3e3e3e"/>
<rect x="812.11" y="577.57" width="11.99" height="7.09" fill="#6e6e6e"/>
<rect x="820.81" y="578.11" width="9.03" height="1.64" fill="#8a8a8a"/>
</g>
<polygon points="737.21,554.11 745.09,554.11 726.04,581.93 716.68,608.66 705.67,608.66 717.17,581.93" fill="#909090"/>
<polygon points="678.74,607.35 705.84,607.35 716.52,608.33 838.88,608.33 838.88,606.26 859.41,606.26 859.41,669.75 678.74,669.75" fill="url(#pav)"/>
<line x1="716.52" y1="608.33" x2="698.45" y2="631.57" stroke="#a2a2a2" stroke-width="0.5"/>
<line x1="741.97" y1="608.33" x2="738.69" y2="633.75" stroke="#a2a2a2" stroke-width="0.5"/>
<line x1="782.22" y1="608.33" x2="783.04" y2="633.75" stroke="#a2a2a2" stroke-width="0.5"/>
<line x1="818.35" y1="608.33" x2="821.63" y2="633.75" stroke="#a2a2a2" stroke-width="0.5"/>
<line x1="686.95" y1="631.57" x2="851.2" y2="631.57" stroke="#a2a2a2" stroke-width="0.5"/>
<line x1="723.09" y1="631.57" x2="708.3" y2="664.3" stroke="#a2a2a2" stroke-width="0.5"/>
<line x1="757.58" y1="633.75" x2="754.29" y2="664.3" stroke="#a2a2a2" stroke-width="0.5"/>
<line x1="800.28" y1="631.57" x2="801.1" y2="664.3" stroke="#a2a2a2" stroke-width="0.5"/>
<line x1="708.3" y1="647.94" x2="839.7" y2="647.94" stroke="#a2a2a2" stroke-width="0.5"/>
<polygon points="678.74,656.99 708.3,656.99 705.84,669.75 678.74,669.75" fill="#464646"/>
<polygon points="800.94,658.85 839.7,658.3 838.55,644.12 859.41,644.12 859.41,669.75 800.94,669.75" fill="#424242"/>
<line x1="723.91" y1="560.66" x2="724.4" y2="604.3" stroke="#2a2a2a" stroke-width="1.3"/>
<rect x="721.77" y="558.47" width="4.6" height="2.73" fill="#b0b0b0"/>
<line x1="843.81" y1="565.02" x2="842.99" y2="602.11" stroke="#363636" stroke-width="1.1"/>
<rect x="841.35" y="563.38" width="5.75" height="1.64" fill="#3c3c3c"/>
<line x1="821.96" y1="578.11" x2="821.96" y2="606.48" stroke="#686868" stroke-width="0.6"/>
<line x1="698.12" y1="555.2" x2="698.12" y2="579.2" stroke="#363636" stroke-width="1"/>
<circle cx="769.72" cy="640.06" r="3.1" fill="none" stroke="#505050" stroke-width="0.8"/>
<circle cx="778.52" cy="640.06" r="3.1" fill="none" stroke="#505050" stroke-width="0.8"/>
<g filter="url(#soft)">
<ellipse cx="688.51" cy="634.11" rx="2" ry="4.6" fill="#3a3a3a" fill-opacity="0.75"/>
<ellipse cx="715.61" cy="619.74" rx="2" ry="4.6" fill="#3a3a3a" fill-opacity="0.75"/>
<ellipse cx="734.7" cy="614.6" rx="2" ry="4.6" fill="#3a3a3a" fill-opacity="0.75"/>
<ellipse cx="755.64" cy="618.71" rx="2" ry="4.6" fill="#3a3a3a" fill-opacity="0.75"/>
<ellipse cx="758.31" cy="609.06" rx="2" ry="4.6" fill="#3a3a3a" fill-opacity="0.75"/>
<ellipse cx="773.09" cy="632.46" rx="2" ry="4.6" fill="#3a3a3a" fill-opacity="0.75"/>
<ellipse cx="780.89" cy="605.78" rx="2" ry="4.6" fill="#3a3a3a" fill-opacity="0.75"/>
<ellipse cx="787.05" cy="611.52" rx="2" ry="4.6" fill="#3a3a3a" fill-opacity="0.75"/>
<ellipse cx="799.37" cy="608.44" rx="2" ry="4.6" fill="#3a3a3a" fill-opacity="0.75"/>
<ellipse cx="803.27" cy="609.47" rx="2" ry="4.6" fill="#3a3a3a" fill-opacity="0.75"/>
<ellipse cx="804.5" cy="624.25" rx="2" ry="4.6" fill="#3a3a3a" fill-opacity="0.75"/>
<ellipse cx="822.36" cy="628.97" rx="2" ry="4.6" fill="#3a3a3a" fill-opacity="0.75"/>
<ellipse cx="834.68" cy="610.5" rx="2" ry="4.6" fill="#3a3a3a" fill-opacity="0.75"/>
<ellipse cx="835.29" cy="618.71" rx="2" ry="4.6" fill="#3a3a3a" fill-opacity="0.75"/>
<ellipse cx="844.33" cy="620.76" rx="2" ry="4.6" fill="#3a3a3a" fill-opacity="0.75"/>
</g>
<ellipse cx="688.51" cy="633.51" rx="1.7" ry="2.8" fill="#303030"/>
<circle cx="688.81" cy="630.01" r="1.15" fill="#303030"/>
<path d="M688.21 635.71 L686.21 640.01 M688.81 635.71 L690.81 640.01" stroke="#303030" stroke-width="1" fill="none"/>
<ellipse cx="715.61" cy="619.14" rx="1.7" ry="2.8" fill="#3c3c3c"/>
<circle cx="715.91" cy="615.64" r="1.15" fill="#3c3c3c"/>
<path d="M715.31 621.34 L714.11 625.64 M715.91 621.34 L717.11 625.64" stroke="#3c3c3c" stroke-width="1" fill="none"/>
<ellipse cx="734.7" cy="614" rx="1.7" ry="2.8" fill="#353535"/>
<circle cx="735" cy="610.5" r="1.15" fill="#353535"/>
<path d="M734.4 616.2 L732.4 620.5 M735 616.2 L737 620.5" stroke="#353535" stroke-width="1" fill="none"/>
<ellipse cx="755.64" cy="618.11" rx="1.7" ry="2.8" fill="#444"/>
<circle cx="755.94" cy="614.61" r="1.15" fill="#444"/>
<path d="M755.34 620.31 L754.14 624.61 M755.94 620.31 L757.14 624.61" stroke="#444" stroke-width="1" fill="none"/>
<ellipse cx="758.31" cy="608.46" rx="1.7" ry="2.8" fill="#303030"/>
<circle cx="758.61" cy="604.96" r="1.15" fill="#303030"/>
<path d="M758.01 610.66 L756.01 614.96 M758.61 610.66 L760.61 614.96" stroke="#303030" stroke-width="1" fill="none"/>
<ellipse cx="773.09" cy="631.86" rx="1.7" ry="2.8" fill="#3c3c3c"/>
<circle cx="773.39" cy="628.36" r="1.15" fill="#3c3c3c"/>
<path d="M772.79 634.06 L771.59 638.36 M773.39 634.06 L774.59 638.36" stroke="#3c3c3c" stroke-width="1" fill="none"/>
<ellipse cx="780.89" cy="605.18" rx="1.7" ry="2.8" fill="#353535"/>
<circle cx="781.19" cy="601.68" r="1.15" fill="#353535"/>
<path d="M780.59 607.38 L778.59 611.68 M781.19 607.38 L783.19 611.68" stroke="#353535" stroke-width="1" fill="none"/>
<ellipse cx="787.05" cy="610.92" rx="1.7" ry="2.8" fill="#444"/>
<circle cx="787.35" cy="607.42" r="1.15" fill="#444"/>
<path d="M786.75 613.12 L785.55 617.42 M787.35 613.12 L788.55 617.42" stroke="#444" stroke-width="1" fill="none"/>
<ellipse cx="799.37" cy="607.84" rx="1.7" ry="2.8" fill="#303030"/>
<circle cx="799.67" cy="604.34" r="1.15" fill="#303030"/>
<path d="M799.07 610.04 L797.07 614.34 M799.67 610.04 L801.67 614.34" stroke="#303030" stroke-width="1" fill="none"/>
<ellipse cx="803.27" cy="608.87" rx="1.7" ry="2.8" fill="#3c3c3c"/>
<circle cx="803.57" cy="605.37" r="1.15" fill="#3c3c3c"/>
<path d="M802.97 611.07 L801.77 615.37 M803.57 611.07 L804.77 615.37" stroke="#3c3c3c" stroke-width="1" fill="none"/>
<ellipse cx="804.5" cy="623.65" rx="1.7" ry="2.8" fill="#353535"/>
<circle cx="804.8" cy="620.15" r="1.15" fill="#353535"/>
<path d="M804.2 625.85 L802.2 630.15 M804.8 625.85 L806.8 630.15" stroke="#353535" stroke-width="1" fill="none"/>
<ellipse cx="822.36" cy="628.37" rx="1.7" ry="2.8" fill="#444"/>
<circle cx="822.66" cy="624.87" r="1.15" fill="#444"/>
<path d="M822.06 630.57 L820.86 634.87 M822.66 630.57 L823.86 634.87" stroke="#444" stroke-width="1" fill="none"/>
<ellipse cx="834.68" cy="609.9" rx="1.7" ry="2.8" fill="#303030"/>
<circle cx="834.98" cy="606.4" r="1.15" fill="#303030"/>
<path d="M834.38 612.1 L832.38 616.4 M834.98 612.1 L836.98 616.4" stroke="#303030" stroke-width="1" fill="none"/>
<ellipse cx="835.29" cy="618.11" rx="1.7" ry="2.8" fill="#3c3c3c"/>
<circle cx="835.59" cy="614.61" r="1.15" fill="#3c3c3c"/>
<path d="M834.99 620.31 L833.79 624.61 M835.59 620.31 L836.79 624.61" stroke="#3c3c3c" stroke-width="1" fill="none"/>
<ellipse cx="844.33" cy="620.16" rx="1.7" ry="2.8" fill="#353535"/>
<circle cx="844.63" cy="616.66" r="1.15" fill="#353535"/>
<path d="M844.03 622.36 L842.03 626.66 M844.63 622.36 L846.63 626.66" stroke="#353535" stroke-width="1" fill="none"/>
</g>
<rect x="542.25" y="432.75" width="363.35" height="270.25" fill="none" stroke="#3c3c3c" stroke-width="1"/>
<path d="M542.25 703v4M582.62 703v4M622.99 703v4M663.37 703v4M703.74 703v4M744.11 703v4M784.48 703v4M824.86 703v4M865.23 703v4M905.6 703v4M542.25 690.6h-4M542.25 641.42h-4M542.25 592.24h-4M542.25 543.06h-4M542.25 493.88h-4M542.25 444.7h-4" stroke="#4a4a4a" stroke-width="1.1" fill="none"/>
<text class="tk" transform="translate(541.7 728.4) scale(1.025 1.09)" text-anchor="middle">0</text>
<text class="tk" transform="translate(582.08 728.4) scale(1.025 1.09)" text-anchor="middle">20</text>
<text class="tk" transform="translate(622.47 728.4) scale(1.025 1.09)" text-anchor="middle">40</text>
<text class="tk" transform="translate(662.85 728.4) scale(1.025 1.09)" text-anchor="middle">60</text>
<text class="tk" transform="translate(703.23 728.4) scale(1.025 1.09)" text-anchor="middle">80</text>
<text class="tk" transform="translate(743.62 728.4) scale(1.025 1.09)" text-anchor="middle">100</text>
<text class="tk" transform="translate(784 728.4) scale(1.025 1.09)" text-anchor="middle">120</text>
<text class="tk" transform="translate(824.38 728.4) scale(1.025 1.09)" text-anchor="middle">140</text>
<text class="tk" transform="translate(864.77 728.4) scale(1.025 1.09)" text-anchor="middle">160</text>
<text class="tk" transform="translate(905.15 728.4) scale(1.025 1.09)" text-anchor="middle">180</text>
<text class="tk" transform="translate(530.7 699.5) scale(1.025 1.09)" text-anchor="end">0.0</text>
<text class="tk" transform="translate(530.7 650.32) scale(1.025 1.09)" text-anchor="end">0.2</text>
<text class="tk" transform="translate(530.7 601.14) scale(1.025 1.09)" text-anchor="end">0.4</text>
<text class="tk" transform="translate(530.7 551.96) scale(1.025 1.09)" text-anchor="end">0.6</text>
<text class="tk" transform="translate(530.7 502.78) scale(1.025 1.09)" text-anchor="end">0.8</text>
<text class="tk" transform="translate(530.7 453.6) scale(1.025 1.09)" text-anchor="end">1.0</text>
<text class="lb" transform="translate(720.2 760.6) scale(1.022 1.09)" text-anchor="middle">Frames</text>
<text class="lb" transform="translate(484.5 563.7) rotate(-90) scale(1.022 1.04)" text-anchor="middle">Score</text>
<text class="tt" transform="translate(718.4 424.6) scale(1.025 1.09)" text-anchor="middle">UCSD Ped2 “02”</text>
</g>
<g>
<rect x="991.6" y="433.2" width="312.7" height="270.2" fill="#ff8080"/>
<polyline clip-path="url(#ac6)" points="991.23,574.46 991.65,545.15 992.28,522.12 993.96,509.56 996.05,503.28 998.14,497 1000.66,495.95 1002.33,487.58 1005.26,486.53 1006.94,484.02 1011.12,482.34 1022.64,481.92 1025.78,483.39 1028.92,482.34 1030.6,492.39 1034.57,492.81 1036.67,495.95 1039.39,494.9 1043.58,496.37 1046.72,495.32 1048.81,492.39 1050.48,477.74 1051.53,477.74 1053,494.9 1057.18,494.9 1059.28,485.48 1060.95,478.15 1065.14,477.74 1067.23,473.55 1071.42,473.13 1073.52,467.69 1075.61,464.55 1077.28,444.66 1079.59,444.66 1081.26,467.69 1083.36,473.97 1085.45,479.2 1093.82,479.2 1096.96,484.02 1098.64,485.06 1101.57,485.06 1103.87,481.92 1105.97,479.2 1109.53,479.2 1111.62,482.34 1114.76,483.39 1115.81,484.85 1117.9,485.48 1119.58,495.95 1128.37,495.95 1129.63,470.41 1134.23,470.41 1135.49,487.58 1137.16,491.76 1139.88,496.58 1141.98,517.93 1144.07,542.01 1145.75,516.89 1147.21,542.01 1149.31,543.06 1150.35,545.15 1152.03,548.92 1153.49,544.1 1155.17,513.75 1156.01,496.58 1157.05,524.21 1158.1,548.71 1168.15,548.71 1169.82,534.68 1171.29,513.75 1172.34,494.9 1174.43,485.48 1176.1,481.29 1178.2,468.73 1192.23,468.31 1194.32,456.59 1198.51,456.59 1199.55,482.34 1200.39,497 1202.69,505.37 1205.42,513.75 1208.35,516.26 1210.44,521.07 1212.53,531.54 1213.79,555.62 1214.63,575.51 1216.3,578.65 1218.4,580.33 1220.49,580.74 1222.58,587.65 1234.73,587.65 1236.82,580.74 1238.91,579.07 1240.38,556.67 1242.47,555.62 1245.61,545.15 1248.75,534.68 1250.85,533.64 1252.94,529.45 1255.45,525.26 1257.55,524.63 1259.22,519.61 1260.9,517.93 1261.94,503.28 1262.99,495.95 1266.97,495.95 1269.27,486.11 1272.41,479.2 1274.51,470.83 1276.6,467.69 1279.74,466.64 1282.88,467.27 1286.44,468.1 1288.53,477.11 1291.05,482.34 1292.09,513.75 1293.14,539.92 1295.44,544.73 1297.54,563.99 1299.63,584.93 1299.07,576.42 1301.74,602.09 1303.18,605.58 1304.82,606.19 1306.26,621.59 1307.7,635.55 1309.34,636.99 1311.39,637.4 1313.03,643.14 1315.09,644.58 1316.93,650.33 1317.96,652.79 1319.6,652.38 1321.66,644.17 1323.71,638.01 1325.76,635.96 1328.23,635.34 1331.92,637.4 1333.97,644.17 1336.03,652.38 1338.08,653 1339.72,659.57 1341.16,671.89 1342.8,683.18 1343.83,691.39" fill="none" stroke="#0000ff" stroke-width="2.05" stroke-linejoin="round" stroke-linecap="butt"/>
<line x1="1111.2" y1="581.16" x2="1129.1" y2="489.88" stroke="#000" stroke-width="0.9"/>
<polygon points="1132.56,471.87 1119.99,487.58 1138.21,492.18" fill="#000"/>
<g clip-path="url(#ic6)">
<rect x="1026.05" y="581.15" width="164.25" height="109.1" fill="#595959"/>
<g filter="url(#soft)">
<rect x="1017.84" y="575.69" width="59.13" height="19.64" fill="#3a3a3a"/>
<rect x="1017.84" y="595.33" width="49.27" height="15.27" fill="#4e4e4e"/>
<rect x="1081.89" y="575.69" width="24.64" height="20.73" fill="#484848"/>
<rect x="1105.22" y="575.69" width="75.23" height="21.82" fill="#666666"/>
<rect x="1179.95" y="575.69" width="18.56" height="28.37" fill="#747474"/>
<polygon points="1064.65,609.52 1064.65,599.7 1070.4,595.88 1085.18,594.79 1099.96,595.88 1111.46,594.79 1127.88,595.33 1141.02,593.7 1157.45,594.79 1173.88,596.42 1179.62,598.61 1180.44,604.06 1198.51,602.97 1198.51,612.79 1157.45,612.24 1127.88,610.06 1091.75,609.73" fill="#3e3e3e"/>
<rect x="1151.21" y="603.52" width="11.99" height="7.09" fill="#6e6e6e"/>
<rect x="1159.91" y="604.06" width="9.03" height="1.64" fill="#8a8a8a"/>
</g>
<polygon points="1076.31,580.06 1084.19,580.06 1065.14,607.88 1055.78,634.61 1044.77,634.61 1056.27,607.88" fill="#909090"/>
<polygon points="1017.84,633.3 1044.94,633.3 1055.62,634.28 1177.98,634.28 1177.98,632.21 1198.51,632.21 1198.51,695.7 1017.84,695.7" fill="url(#pav)"/>
<line x1="1055.62" y1="634.28" x2="1037.55" y2="657.52" stroke="#a2a2a2" stroke-width="0.5"/>
<line x1="1081.07" y1="634.28" x2="1077.79" y2="659.7" stroke="#a2a2a2" stroke-width="0.5"/>
<line x1="1121.32" y1="634.28" x2="1122.14" y2="659.7" stroke="#a2a2a2" stroke-width="0.5"/>
<line x1="1157.45" y1="634.28" x2="1160.73" y2="659.7" stroke="#a2a2a2" stroke-width="0.5"/>
<line x1="1026.05" y1="657.52" x2="1190.3" y2="657.52" stroke="#a2a2a2" stroke-width="0.5"/>
<line x1="1062.18" y1="657.52" x2="1047.4" y2="690.25" stroke="#a2a2a2" stroke-width="0.5"/>
<line x1="1096.68" y1="659.7" x2="1093.39" y2="690.25" stroke="#a2a2a2" stroke-width="0.5"/>
<line x1="1139.38" y1="657.52" x2="1140.2" y2="690.25" stroke="#a2a2a2" stroke-width="0.5"/>
<line x1="1047.4" y1="673.88" x2="1178.8" y2="673.88" stroke="#a2a2a2" stroke-width="0.5"/>
<polygon points="1017.84,682.94 1047.4,682.94 1044.94,695.7 1017.84,695.7" fill="#464646"/>
<polygon points="1140.04,684.79 1178.8,684.25 1177.65,670.07 1198.51,670.07 1198.51,695.7 1140.04,695.7" fill="#424242"/>
<line x1="1063.01" y1="586.61" x2="1063.5" y2="630.25" stroke="#2a2a2a" stroke-width="1.3"/>
<rect x="1060.87" y="584.42" width="4.6" height="2.73" fill="#b0b0b0"/>
<line x1="1182.91" y1="590.97" x2="1182.09" y2="628.06" stroke="#363636" stroke-width="1.1"/>
<rect x="1180.44" y="589.33" width="5.75" height="1.64" fill="#3c3c3c"/>
<line x1="1161.06" y1="604.06" x2="1161.06" y2="632.43" stroke="#686868" stroke-width="0.6"/>
<line x1="1037.22" y1="581.15" x2="1037.22" y2="605.15" stroke="#363636" stroke-width="1"/>
<circle cx="1086.3" cy="659.16" r="3.1" fill="none" stroke="#505050" stroke-width="0.8"/>
<circle cx="1095.1" cy="659.16" r="3.1" fill="none" stroke="#505050" stroke-width="0.8"/>
<g filter="url(#soft)">
<ellipse cx="1029.73" cy="635.75" rx="2" ry="4.6" fill="#3a3a3a" fill-opacity="0.75"/>
<ellipse cx="1034.86" cy="628.97" rx="2" ry="4.6" fill="#3a3a3a" fill-opacity="0.75"/>
<ellipse cx="1041.02" cy="641.29" rx="2" ry="4.6" fill="#3a3a3a" fill-opacity="0.75"/>
<ellipse cx="1047.59" cy="635.13" rx="2" ry="4.6" fill="#3a3a3a" fill-opacity="0.75"/>
<ellipse cx="1047.59" cy="644.78" rx="2" ry="4.6" fill="#3a3a3a" fill-opacity="0.75"/>
<ellipse cx="1052.1" cy="650.53" rx="2" ry="4.6" fill="#3a3a3a" fill-opacity="0.75"/>
<ellipse cx="1053.75" cy="631.03" rx="2" ry="4.6" fill="#3a3a3a" fill-opacity="0.75"/>
<ellipse cx="1059.5" cy="643.96" rx="2" ry="4.6" fill="#3a3a3a" fill-opacity="0.75"/>
<ellipse cx="1065.04" cy="639.24" rx="2" ry="4.6" fill="#3a3a3a" fill-opacity="0.75"/>
<ellipse cx="1074.28" cy="643.96" rx="2" ry="4.6" fill="#3a3a3a" fill-opacity="0.75"/>
<ellipse cx="1089.67" cy="652.58" rx="2" ry="4.6" fill="#3a3a3a" fill-opacity="0.75"/>
<ellipse cx="1101.99" cy="642.32" rx="2" ry="4.6" fill="#3a3a3a" fill-opacity="0.75"/>
<ellipse cx="1125.6" cy="631.03" rx="2" ry="4.6" fill="#3a3a3a" fill-opacity="0.75"/>
<ellipse cx="1133.2" cy="642.32" rx="2" ry="4.6" fill="#3a3a3a" fill-opacity="0.75"/>
<ellipse cx="1136.48" cy="630.62" rx="2" ry="4.6" fill="#3a3a3a" fill-opacity="0.75"/>
<ellipse cx="1137.92" cy="637.19" rx="2" ry="4.6" fill="#3a3a3a" fill-opacity="0.75"/>
<ellipse cx="1162.14" cy="664.49" rx="2" ry="4.6" fill="#3a3a3a" fill-opacity="0.75"/>
<ellipse cx="1178.98" cy="636.16" rx="2" ry="4.6" fill="#3a3a3a" fill-opacity="0.75"/>
<ellipse cx="1182.67" cy="646.42" rx="2" ry="4.6" fill="#3a3a3a" fill-opacity="0.75"/>
</g>
<ellipse cx="1029.73" cy="635.15" rx="1.7" ry="2.8" fill="#303030"/>
<circle cx="1030.03" cy="631.65" r="1.15" fill="#303030"/>
<path d="M1029.43 637.35 L1027.43 641.65 M1030.03 637.35 L1032.03 641.65" stroke="#303030" stroke-width="1" fill="none"/>
<ellipse cx="1034.86" cy="628.37" rx="1.7" ry="2.8" fill="#3c3c3c"/>
<circle cx="1035.16" cy="624.87" r="1.15" fill="#3c3c3c"/>
<path d="M1034.56 630.57 L1033.36 634.87 M1035.16 630.57 L1036.36 634.87" stroke="#3c3c3c" stroke-width="1" fill="none"/>
<ellipse cx="1041.02" cy="640.69" rx="1.7" ry="2.8" fill="#353535"/>
<circle cx="1041.32" cy="637.19" r="1.15" fill="#353535"/>
<path d="M1040.72 642.89 L1038.72 647.19 M1041.32 642.89 L1043.32 647.19" stroke="#353535" stroke-width="1" fill="none"/>
<ellipse cx="1047.59" cy="634.53" rx="1.7" ry="2.8" fill="#444"/>
<circle cx="1047.89" cy="631.03" r="1.15" fill="#444"/>
<path d="M1047.29 636.73 L1046.09 641.03 M1047.89 636.73 L1049.09 641.03" stroke="#444" stroke-width="1" fill="none"/>
<ellipse cx="1047.59" cy="644.18" rx="1.7" ry="2.8" fill="#303030"/>
<circle cx="1047.89" cy="640.68" r="1.15" fill="#303030"/>
<path d="M1047.29 646.38 L1045.29 650.68 M1047.89 646.38 L1049.89 650.68" stroke="#303030" stroke-width="1" fill="none"/>
<ellipse cx="1052.1" cy="649.93" rx="1.7" ry="2.8" fill="#3c3c3c"/>
<circle cx="1052.4" cy="646.43" r="1.15" fill="#3c3c3c"/>
<path d="M1051.8 652.13 L1050.6 656.43 M1052.4 652.13 L1053.6 656.43" stroke="#3c3c3c" stroke-width="1" fill="none"/>
<ellipse cx="1053.75" cy="630.43" rx="1.7" ry="2.8" fill="#353535"/>
<circle cx="1054.05" cy="626.93" r="1.15" fill="#353535"/>
<path d="M1053.45 632.63 L1051.45 636.93 M1054.05 632.63 L1056.05 636.93" stroke="#353535" stroke-width="1" fill="none"/>
<ellipse cx="1059.5" cy="643.36" rx="1.7" ry="2.8" fill="#444"/>
<circle cx="1059.8" cy="639.86" r="1.15" fill="#444"/>
<path d="M1059.2 645.56 L1058 649.86 M1059.8 645.56 L1061 649.86" stroke="#444" stroke-width="1" fill="none"/>
<ellipse cx="1065.04" cy="638.64" rx="1.7" ry="2.8" fill="#303030"/>
<circle cx="1065.34" cy="635.14" r="1.15" fill="#303030"/>
<path d="M1064.74 640.84 L1062.74 645.14 M1065.34 640.84 L1067.34 645.14" stroke="#303030" stroke-width="1" fill="none"/>
<ellipse cx="1074.28" cy="643.36" rx="1.7" ry="2.8" fill="#3c3c3c"/>
<circle cx="1074.58" cy="639.86" r="1.15" fill="#3c3c3c"/>
<path d="M1073.98 645.56 L1072.78 649.86 M1074.58 645.56 L1075.78 649.86" stroke="#3c3c3c" stroke-width="1" fill="none"/>
<ellipse cx="1089.67" cy="651.98" rx="1.7" ry="2.8" fill="#353535"/>
<circle cx="1089.97" cy="648.48" r="1.15" fill="#353535"/>
<path d="M1089.37 654.18 L1087.37 658.48 M1089.97 654.18 L1091.97 658.48" stroke="#353535" stroke-width="1" fill="none"/>
<ellipse cx="1101.99" cy="641.72" rx="1.7" ry="2.8" fill="#444"/>
<circle cx="1102.29" cy="638.22" r="1.15" fill="#444"/>
<path d="M1101.69 643.92 L1100.49 648.22 M1102.29 643.92 L1103.49 648.22" stroke="#444" stroke-width="1" fill="none"/>
<ellipse cx="1125.6" cy="630.43" rx="1.7" ry="2.8" fill="#303030"/>
<circle cx="1125.9" cy="626.93" r="1.15" fill="#303030"/>
<path d="M1125.3 632.63 L1123.3 636.93 M1125.9 632.63 L1127.9 636.93" stroke="#303030" stroke-width="1" fill="none"/>
<ellipse cx="1133.2" cy="641.72" rx="1.7" ry="2.8" fill="#3c3c3c"/>
<circle cx="1133.5" cy="638.22" r="1.15" fill="#3c3c3c"/>
<path d="M1132.9 643.92 L1131.7 648.22 M1133.5 643.92 L1134.7 648.22" stroke="#3c3c3c" stroke-width="1" fill="none"/>
<ellipse cx="1136.48" cy="630.02" rx="1.7" ry="2.8" fill="#353535"/>
<circle cx="1136.78" cy="626.52" r="1.15" fill="#353535"/>
<path d="M1136.18 632.22 L1134.18 636.52 M1136.78 632.22 L1138.78 636.52" stroke="#353535" stroke-width="1" fill="none"/>
<ellipse cx="1137.92" cy="636.59" rx="1.7" ry="2.8" fill="#444"/>
<circle cx="1138.22" cy="633.09" r="1.15" fill="#444"/>
<path d="M1137.62 638.79 L1136.42 643.09 M1138.22 638.79 L1139.42 643.09" stroke="#444" stroke-width="1" fill="none"/>
<ellipse cx="1162.14" cy="663.89" rx="1.7" ry="2.8" fill="#303030"/>
<circle cx="1162.44" cy="660.39" r="1.15" fill="#303030"/>
<path d="M1161.84 666.09 L1159.84 670.39 M1162.44 666.09 L1164.44 670.39" stroke="#303030" stroke-width="1" fill="none"/>
<ellipse cx="1178.98" cy="635.56" rx="1.7" ry="2.8" fill="#3c3c3c"/>
<circle cx="1179.28" cy="632.06" r="1.15" fill="#3c3c3c"/>
<path d="M1178.68 637.76 L1177.48 642.06 M1179.28 637.76 L1180.48 642.06" stroke="#3c3c3c" stroke-width="1" fill="none"/>
<ellipse cx="1182.67" cy="645.82" rx="1.7" ry="2.8" fill="#353535"/>
<circle cx="1182.97" cy="642.32" r="1.15" fill="#353535"/>
<path d="M1182.37 648.02 L1180.37 652.32 M1182.97 648.02 L1184.97 652.32" stroke="#353535" stroke-width="1" fill="none"/>
</g>
<rect x="991" y="433.2" width="363.45" height="270.2" fill="none" stroke="#3c3c3c" stroke-width="1"/>
<path d="M991 703.4v4M1031.38 703.4v4M1071.77 703.4v4M1112.15 703.4v4M1152.53 703.4v4M1192.92 703.4v4M1233.3 703.4v4M1273.68 703.4v4M1314.07 703.4v4M1354.45 703.4v4M991 691h-4M991 641.82h-4M991 592.64h-4M991 543.46h-4M991 494.28h-4M991 445.1h-4" stroke="#4a4a4a" stroke-width="1.1" fill="none"/>
<text class="tk" transform="translate(989.6 728.4) scale(1.025 1.09)" text-anchor="middle">0</text>
<text class="tk" transform="translate(1029.98 728.4) scale(1.025 1.09)" text-anchor="middle">20</text>
<text class="tk" transform="translate(1070.37 728.4) scale(1.025 1.09)" text-anchor="middle">40</text>
<text class="tk" transform="translate(1110.75 728.4) scale(1.025 1.09)" text-anchor="middle">60</text>
<text class="tk" transform="translate(1151.13 728.4) scale(1.025 1.09)" text-anchor="middle">80</text>
<text class="tk" transform="translate(1191.52 728.4) scale(1.025 1.09)" text-anchor="middle">100</text>
<text class="tk" transform="translate(1231.9 728.4) scale(1.025 1.09)" text-anchor="middle">120</text>
<text class="tk" transform="translate(1272.28 728.4) scale(1.025 1.09)" text-anchor="middle">140</text>
<text class="tk" transform="translate(1312.67 728.4) scale(1.025 1.09)" text-anchor="middle">160</text>
<text class="tk" transform="translate(1353.05 728.4) scale(1.025 1.09)" text-anchor="middle">180</text>
<text class="tk" transform="translate(979.5 700.3) scale(1.025 1.09)" text-anchor="end">0.0</text>
<text class="tk" transform="translate(979.5 651.12) scale(1.025 1.09)" text-anchor="end">0.2</text>
<text class="tk" transform="translate(979.5 601.94) scale(1.025 1.09)" text-anchor="end">0.4</text>
<text class="tk" transform="translate(979.5 552.76) scale(1.025 1.09)" text-anchor="end">0.6</text>
<text class="tk" transform="translate(979.5 503.58) scale(1.025 1.09)" text-anchor="end">0.8</text>
<text class="tk" transform="translate(979.5 454.4) scale(1.025 1.09)" text-anchor="end">1.0</text>
<text class="lb" transform="translate(1168.1 760.6) scale(1.022 1.09)" text-anchor="middle">Frames</text>
<text class="lb" transform="translate(933.3 564.5) rotate(-90) scale(1.022 1.04)" text-anchor="middle">Score</text>
<text class="tt" transform="translate(1171.65 424.6) scale(1.025 1.09)" text-anchor="middle">UCSD Ped2 “02”</text>
</g>
<g>
<rect x="1607.4" y="432.75" width="188.2" height="270.15" fill="#ff8080"/>
<polyline clip-path="url(#ac7)" points="1440.23,555.62 1441.28,546.2 1443.79,544.73 1445.47,536.78 1447.14,532.59 1451.75,530.5 1466.4,530.5 1476.87,528.4 1487.34,522.12 1495.72,492.81 1500.53,463.08 1501.58,453.03 1505.77,452.61 1507.86,447.38 1514.56,447.38 1516.65,444.24 1526.49,444.24 1527.12,453.03 1527.54,463.08 1529.21,513.75 1533.4,563.99 1539.26,571.95 1540.73,580.74 1542.2,591.21 1546.59,591.21 1548.06,578.65 1550.57,576.56 1551.83,571.95 1556.43,563.99 1562.71,563.99 1565.85,571.95 1567.32,578.65 1568.99,585.35 1571.09,585.35 1573.18,571.95 1577.37,566.09 1581.56,566.09 1585.33,571.95 1586.79,574.46 1588.88,574.88 1590.35,578.65 1592.02,585.35 1601.45,585.35 1601.87,593.31 1601.29,585.66 1602.31,611.32 1603.34,644.58 1619.35,644.58 1620.79,621.59 1622.23,594.9 1623.46,578.48 1625.51,569.24 1643.99,569.24 1645.43,561.03 1647.07,568.21 1648.51,572.93 1649.74,573.96 1650.56,584.64 1651.59,595.93 1656.72,596.13 1659.18,600.03 1661.85,603.11 1667.6,603.11 1669.65,599.62 1671.5,598.6 1673.14,602.09 1675.19,603.11 1677.66,604.75 1679.71,605.16 1681.35,603.11 1683.82,604.75 1685.87,605.58 1687.92,610.3 1689.98,614.4 1692.23,608.24 1694.29,604.14 1696.75,603.11 1698.8,602.09 1701.47,599.01 1703.94,598.6 1705.99,599.42 1711.12,599.42 1712.56,592.85 1714.2,586.28 1716.25,585.25 1719.95,584.22 1721.39,577.45 1723.03,571.29 1724.47,569.65 1728.57,569.24 1730.62,564.11 1732.3,559.81 1734.39,553.53 1736.49,546.2 1738.58,536.78 1740.67,532.17 1749.05,532.17 1750.72,534.68 1752.19,543.06 1754.28,545.15 1756.38,551.01 1759.1,555.62 1761.19,562.95 1763.29,564.62 1765.38,569.86 1766.85,576.56 1769.36,583.88 1776.69,583.88 1778.36,587.02 1782.55,587.44 1782.56,588.13 1783.59,601.06 1785.03,621.59 1786.46,638.01 1788.11,650.33 1789.54,657.51 1791.19,660.59 1792.21,677.02 1793.24,690.77" fill="none" stroke="#0000ff" stroke-width="2.05" stroke-linejoin="round" stroke-linecap="butt"/>
<line x1="1611.5" y1="512.07" x2="1707.7" y2="563.47" stroke="#000" stroke-width="0.9"/>
<polygon points="1723.51,571.74 1711.78,555.62 1703.62,571.32" fill="#000"/>
<g clip-path="url(#ic7)">
<rect x="1447.1" y="463" width="164.25" height="109.1" fill="#595959"/>
<g filter="url(#soft)">
<rect x="1438.89" y="457.55" width="59.13" height="19.64" fill="#3a3a3a"/>
<rect x="1438.89" y="477.18" width="49.27" height="15.27" fill="#4e4e4e"/>
<rect x="1502.94" y="457.55" width="24.64" height="20.73" fill="#484848"/>
<rect x="1526.27" y="457.55" width="75.23" height="21.82" fill="#666666"/>
<rect x="1601" y="457.55" width="18.56" height="28.37" fill="#747474"/>
<polygon points="1485.7,491.37 1485.7,481.55 1491.45,477.73 1506.23,476.64 1521.01,477.73 1532.51,476.64 1548.93,477.18 1562.07,475.55 1578.5,476.64 1594.92,478.27 1600.67,480.46 1601.49,485.91 1619.56,484.82 1619.56,494.64 1578.5,494.09 1548.93,491.91 1512.8,491.58" fill="#3e3e3e"/>
<rect x="1572.26" y="485.37" width="11.99" height="7.09" fill="#6e6e6e"/>
<rect x="1580.96" y="485.91" width="9.03" height="1.64" fill="#8a8a8a"/>
</g>
<polygon points="1497.36,461.91 1505.24,461.91 1486.19,489.73 1476.83,516.46 1465.82,516.46 1477.32,489.73" fill="#909090"/>
<polygon points="1438.89,515.15 1465.99,515.15 1476.66,516.13 1599.03,516.13 1599.03,514.06 1619.56,514.06 1619.56,577.55 1438.89,577.55" fill="url(#pav)"/>
<line x1="1476.66" y1="516.13" x2="1458.6" y2="539.37" stroke="#a2a2a2" stroke-width="0.5"/>
<line x1="1502.12" y1="516.13" x2="1498.84" y2="541.55" stroke="#a2a2a2" stroke-width="0.5"/>
<line x1="1542.36" y1="516.13" x2="1543.19" y2="541.55" stroke="#a2a2a2" stroke-width="0.5"/>
<line x1="1578.5" y1="516.13" x2="1581.78" y2="541.55" stroke="#a2a2a2" stroke-width="0.5"/>
<line x1="1447.1" y1="539.37" x2="1611.35" y2="539.37" stroke="#a2a2a2" stroke-width="0.5"/>
<line x1="1483.23" y1="539.37" x2="1468.45" y2="572.1" stroke="#a2a2a2" stroke-width="0.5"/>
<line x1="1517.73" y1="541.55" x2="1514.44" y2="572.1" stroke="#a2a2a2" stroke-width="0.5"/>
<line x1="1560.43" y1="539.37" x2="1561.25" y2="572.1" stroke="#a2a2a2" stroke-width="0.5"/>
<line x1="1468.45" y1="555.74" x2="1599.85" y2="555.74" stroke="#a2a2a2" stroke-width="0.5"/>
<polygon points="1438.89,564.79 1468.45,564.79 1465.99,577.55 1438.89,577.55" fill="#464646"/>
<polygon points="1561.09,566.64 1599.85,566.1 1598.7,551.92 1619.56,551.92 1619.56,577.55 1561.09,577.55" fill="#424242"/>
<line x1="1484.06" y1="468.45" x2="1484.55" y2="512.1" stroke="#2a2a2a" stroke-width="1.3"/>
<rect x="1481.92" y="466.27" width="4.6" height="2.73" fill="#b0b0b0"/>
<line x1="1603.96" y1="472.82" x2="1603.14" y2="509.91" stroke="#363636" stroke-width="1.1"/>
<rect x="1601.49" y="471.18" width="5.75" height="1.64" fill="#3c3c3c"/>
<line x1="1582.11" y1="485.91" x2="1582.11" y2="514.28" stroke="#686868" stroke-width="0.6"/>
<line x1="1458.27" y1="463" x2="1458.27" y2="487" stroke="#363636" stroke-width="1"/>
<g filter="url(#soft)">
<ellipse cx="1450.07" cy="520.65" rx="2" ry="4.6" fill="#3a3a3a" fill-opacity="0.75"/>
<ellipse cx="1462.22" cy="510.81" rx="2" ry="4.6" fill="#3a3a3a" fill-opacity="0.75"/>
<ellipse cx="1466.82" cy="525.46" rx="2" ry="4.6" fill="#3a3a3a" fill-opacity="0.75"/>
<ellipse cx="1468.5" cy="516.04" rx="2" ry="4.6" fill="#3a3a3a" fill-opacity="0.75"/>
<ellipse cx="1479.39" cy="532.79" rx="2" ry="4.6" fill="#3a3a3a" fill-opacity="0.75"/>
<ellipse cx="1485.67" cy="522.32" rx="2" ry="4.6" fill="#3a3a3a" fill-opacity="0.75"/>
<ellipse cx="1494.04" cy="528.6" rx="2" ry="4.6" fill="#3a3a3a" fill-opacity="0.75"/>
<ellipse cx="1497.18" cy="521.27" rx="2" ry="4.6" fill="#3a3a3a" fill-opacity="0.75"/>
<ellipse cx="1514.14" cy="533.84" rx="2" ry="4.6" fill="#3a3a3a" fill-opacity="0.75"/>
<ellipse cx="1523.35" cy="520.23" rx="2" ry="4.6" fill="#3a3a3a" fill-opacity="0.75"/>
<ellipse cx="1539.06" cy="528.6" rx="2" ry="4.6" fill="#3a3a3a" fill-opacity="0.75"/>
<ellipse cx="1540.73" cy="517.09" rx="2" ry="4.6" fill="#3a3a3a" fill-opacity="0.75"/>
<ellipse cx="1543.24" cy="510.81" rx="2" ry="4.6" fill="#3a3a3a" fill-opacity="0.75"/>
<ellipse cx="1557.48" cy="523.37" rx="2" ry="4.6" fill="#3a3a3a" fill-opacity="0.75"/>
<ellipse cx="1563.13" cy="529.65" rx="2" ry="4.6" fill="#3a3a3a" fill-opacity="0.75"/>
<ellipse cx="1567.95" cy="516.04" rx="2" ry="4.6" fill="#3a3a3a" fill-opacity="0.75"/>
<ellipse cx="1577.37" cy="522.32" rx="2" ry="4.6" fill="#3a3a3a" fill-opacity="0.75"/>
<ellipse cx="1580.93" cy="510.81" rx="2" ry="4.6" fill="#3a3a3a" fill-opacity="0.75"/>
<ellipse cx="1584.07" cy="516.46" rx="2" ry="4.6" fill="#3a3a3a" fill-opacity="0.75"/>
<ellipse cx="1596.21" cy="516.04" rx="2" ry="4.6" fill="#3a3a3a" fill-opacity="0.75"/>
<ellipse cx="1598.31" cy="531.74" rx="2" ry="4.6" fill="#3a3a3a" fill-opacity="0.75"/>
<ellipse cx="1605.63" cy="521.27" rx="2" ry="4.6" fill="#3a3a3a" fill-opacity="0.75"/>
</g>
<ellipse cx="1450.07" cy="520.05" rx="1.7" ry="2.8" fill="#303030"/>
<circle cx="1450.37" cy="516.55" r="1.15" fill="#303030"/>
<path d="M1449.77 522.25 L1447.77 526.55 M1450.37 522.25 L1452.37 526.55" stroke="#303030" stroke-width="1" fill="none"/>
<ellipse cx="1462.22" cy="510.21" rx="1.7" ry="2.8" fill="#3c3c3c"/>
<circle cx="1462.52" cy="506.71" r="1.15" fill="#3c3c3c"/>
<path d="M1461.92 512.41 L1460.72 516.71 M1462.52 512.41 L1463.72 516.71" stroke="#3c3c3c" stroke-width="1" fill="none"/>
<ellipse cx="1466.82" cy="524.86" rx="1.7" ry="2.8" fill="#353535"/>
<circle cx="1467.12" cy="521.36" r="1.15" fill="#353535"/>
<path d="M1466.52 527.06 L1464.52 531.36 M1467.12 527.06 L1469.12 531.36" stroke="#353535" stroke-width="1" fill="none"/>
<ellipse cx="1468.5" cy="515.44" rx="1.7" ry="2.8" fill="#444"/>
<circle cx="1468.8" cy="511.94" r="1.15" fill="#444"/>
<path d="M1468.2 517.64 L1467 521.94 M1468.8 517.64 L1470 521.94" stroke="#444" stroke-width="1" fill="none"/>
<ellipse cx="1479.39" cy="532.19" rx="1.7" ry="2.8" fill="#303030"/>
<circle cx="1479.69" cy="528.69" r="1.15" fill="#303030"/>
<path d="M1479.09 534.39 L1477.09 538.69 M1479.69 534.39 L1481.69 538.69" stroke="#303030" stroke-width="1" fill="none"/>
<ellipse cx="1485.67" cy="521.72" rx="1.7" ry="2.8" fill="#3c3c3c"/>
<circle cx="1485.97" cy="518.22" r="1.15" fill="#3c3c3c"/>
<path d="M1485.37 523.92 L1484.17 528.22 M1485.97 523.92 L1487.17 528.22" stroke="#3c3c3c" stroke-width="1" fill="none"/>
<ellipse cx="1494.04" cy="528" rx="1.7" ry="2.8" fill="#353535"/>
<circle cx="1494.34" cy="524.5" r="1.15" fill="#353535"/>
<path d="M1493.74 530.2 L1491.74 534.5 M1494.34 530.2 L1496.34 534.5" stroke="#353535" stroke-width="1" fill="none"/>
<ellipse cx="1497.18" cy="520.67" rx="1.7" ry="2.8" fill="#444"/>
<circle cx="1497.48" cy="517.17" r="1.15" fill="#444"/>
<path d="M1496.88 522.87 L1495.68 527.17 M1497.48 522.87 L1498.68 527.17" stroke="#444" stroke-width="1" fill="none"/>
<ellipse cx="1514.14" cy="533.24" rx="1.7" ry="2.8" fill="#303030"/>
<circle cx="1514.44" cy="529.74" r="1.15" fill="#303030"/>
<path d="M1513.84 535.44 L1511.84 539.74 M1514.44 535.44 L1516.44 539.74" stroke="#303030" stroke-width="1" fill="none"/>
<ellipse cx="1523.35" cy="519.63" rx="1.7" ry="2.8" fill="#3c3c3c"/>
<circle cx="1523.65" cy="516.13" r="1.15" fill="#3c3c3c"/>
<path d="M1523.05 521.83 L1521.85 526.13 M1523.65 521.83 L1524.85 526.13" stroke="#3c3c3c" stroke-width="1" fill="none"/>
<ellipse cx="1539.06" cy="528" rx="1.7" ry="2.8" fill="#353535"/>
<circle cx="1539.36" cy="524.5" r="1.15" fill="#353535"/>
<path d="M1538.76 530.2 L1536.76 534.5 M1539.36 530.2 L1541.36 534.5" stroke="#353535" stroke-width="1" fill="none"/>
<ellipse cx="1540.73" cy="516.49" rx="1.7" ry="2.8" fill="#444"/>
<circle cx="1541.03" cy="512.99" r="1.15" fill="#444"/>
<path d="M1540.43 518.69 L1539.23 522.99 M1541.03 518.69 L1542.23 522.99" stroke="#444" stroke-width="1" fill="none"/>
<ellipse cx="1543.24" cy="510.21" rx="1.7" ry="2.8" fill="#303030"/>
<circle cx="1543.54" cy="506.71" r="1.15" fill="#303030"/>
<path d="M1542.94 512.41 L1540.94 516.71 M1543.54 512.41 L1545.54 516.71" stroke="#303030" stroke-width="1" fill="none"/>
<ellipse cx="1557.48" cy="522.77" rx="1.7" ry="2.8" fill="#3c3c3c"/>
<circle cx="1557.78" cy="519.27" r="1.15" fill="#3c3c3c"/>
<path d="M1557.18 524.97 L1555.98 529.27 M1557.78 524.97 L1558.98 529.27" stroke="#3c3c3c" stroke-width="1" fill="none"/>
<ellipse cx="1563.13" cy="529.05" rx="1.7" ry="2.8" fill="#353535"/>
<circle cx="1563.43" cy="525.55" r="1.15" fill="#353535"/>
<path d="M1562.83 531.25 L1560.83 535.55 M1563.43 531.25 L1565.43 535.55" stroke="#353535" stroke-width="1" fill="none"/>
<ellipse cx="1567.95" cy="515.44" rx="1.7" ry="2.8" fill="#444"/>
<circle cx="1568.25" cy="511.94" r="1.15" fill="#444"/>
<path d="M1567.65 517.64 L1566.45 521.94 M1568.25 517.64 L1569.45 521.94" stroke="#444" stroke-width="1" fill="none"/>
<ellipse cx="1577.37" cy="521.72" rx="1.7" ry="2.8" fill="#303030"/>
<circle cx="1577.67" cy="518.22" r="1.15" fill="#303030"/>
<path d="M1577.07 523.92 L1575.07 528.22 M1577.67 523.92 L1579.67 528.22" stroke="#303030" stroke-width="1" fill="none"/>
<ellipse cx="1580.93" cy="510.21" rx="1.7" ry="2.8" fill="#3c3c3c"/>
<circle cx="1581.23" cy="506.71" r="1.15" fill="#3c3c3c"/>
<path d="M1580.63 512.41 L1579.43 516.71 M1581.23 512.41 L1582.43 516.71" stroke="#3c3c3c" stroke-width="1" fill="none"/>
<ellipse cx="1584.07" cy="515.86" rx="1.7" ry="2.8" fill="#353535"/>
<circle cx="1584.37" cy="512.36" r="1.15" fill="#353535"/>
<path d="M1583.77 518.06 L1581.77 522.36 M1584.37 518.06 L1586.37 522.36" stroke="#353535" stroke-width="1" fill="none"/>
<ellipse cx="1596.21" cy="515.44" rx="1.7" ry="2.8" fill="#444"/>
<circle cx="1596.51" cy="511.94" r="1.15" fill="#444"/>
<path d="M1595.91 517.64 L1594.71 521.94 M1596.51 517.64 L1597.71 521.94" stroke="#444" stroke-width="1" fill="none"/>
<ellipse cx="1598.31" cy="531.14" rx="1.7" ry="2.8" fill="#303030"/>
<circle cx="1598.61" cy="527.64" r="1.15" fill="#303030"/>
<path d="M1598.01 533.34 L1596.01 537.64 M1598.61 533.34 L1600.61 537.64" stroke="#303030" stroke-width="1" fill="none"/>
<ellipse cx="1605.63" cy="520.67" rx="1.7" ry="2.8" fill="#3c3c3c"/>
<circle cx="1605.93" cy="517.17" r="1.15" fill="#3c3c3c"/>
<path d="M1605.33 522.87 L1604.13 527.17 M1605.93 522.87 L1607.13 527.17" stroke="#3c3c3c" stroke-width="1" fill="none"/>
</g>
<rect x="1440.3" y="432.75" width="363.3" height="270.15" fill="none" stroke="#3c3c3c" stroke-width="1"/>
<path d="M1440.3 702.9v4M1480.67 702.9v4M1521.03 702.9v4M1561.4 702.9v4M1601.77 702.9v4M1642.13 702.9v4M1682.5 702.9v4M1722.87 702.9v4M1763.23 702.9v4M1803.6 702.9v4M1440.3 690.5h-4M1440.3 641.32h-4M1440.3 592.14h-4M1440.3 542.96h-4M1440.3 493.78h-4M1440.3 444.6h-4" stroke="#4a4a4a" stroke-width="1.1" fill="none"/>
<text class="tk" transform="translate(1438.7 728.4) scale(1.025 1.09)" text-anchor="middle">0</text>
<text class="tk" transform="translate(1479.08 728.4) scale(1.025 1.09)" text-anchor="middle">20</text>
<text class="tk" transform="translate(1519.47 728.4) scale(1.025 1.09)" text-anchor="middle">40</text>
<text class="tk" transform="translate(1559.85 728.4) scale(1.025 1.09)" text-anchor="middle">60</text>
<text class="tk" transform="translate(1600.23 728.4) scale(1.025 1.09)" text-anchor="middle">80</text>
<text class="tk" transform="translate(1640.62 728.4) scale(1.025 1.09)" text-anchor="middle">100</text>
<text class="tk" transform="translate(1681 728.4) scale(1.025 1.09)" text-anchor="middle">120</text>
<text class="tk" transform="translate(1721.38 728.4) scale(1.025 1.09)" text-anchor="middle">140</text>
<text class="tk" transform="translate(1761.77 728.4) scale(1.025 1.09)" text-anchor="middle">160</text>
<text class="tk" transform="translate(1802.15 728.4) scale(1.025 1.09)" text-anchor="middle">180</text>
<text class="tk" transform="translate(1427.9 699.5) scale(1.025 1.09)" text-anchor="end">0.0</text>
<text class="tk" transform="translate(1427.9 650.32) scale(1.025 1.09)" text-anchor="end">0.2</text>
<text class="tk" transform="translate(1427.9 601.14) scale(1.025 1.09)" text-anchor="end">0.4</text>
<text class="tk" transform="translate(1427.9 551.96) scale(1.025 1.09)" text-anchor="end">0.6</text>
<text class="tk" transform="translate(1427.9 502.78) scale(1.025 1.09)" text-anchor="end">0.8</text>
<text class="tk" transform="translate(1427.9 453.6) scale(1.025 1.09)" text-anchor="end">1.0</text>
<text class="lb" transform="translate(1617.2 760.6) scale(1.022 1.09)" text-anchor="middle">Frames</text>
<text class="lb" transform="translate(1381.7 563.7) rotate(-90) scale(1.022 1.04)" text-anchor="middle">Score</text>
<text class="tt" transform="translate(1621 424.6) scale(1.025 1.09)" text-anchor="middle">UCSD Ped2 “12”</text>
</g>
<text class="cp" transform="translate(274.85 806.1) scale(0.995 1.075)" text-anchor="middle">(a) “01”</text>
<text class="cp" transform="translate(708.35 806.1) scale(0.995 1.075)" text-anchor="middle">(b) “02”</text>
<text class="cp" transform="translate(1127.3 806.1) scale(0.995 1.075)" text-anchor="middle">(c) “06”</text>
<text class="cp" transform="translate(1576.15 806.1) scale(0.995 1.075)" text-anchor="middle">(d) “12”</text>
</svg>
</body></html>
